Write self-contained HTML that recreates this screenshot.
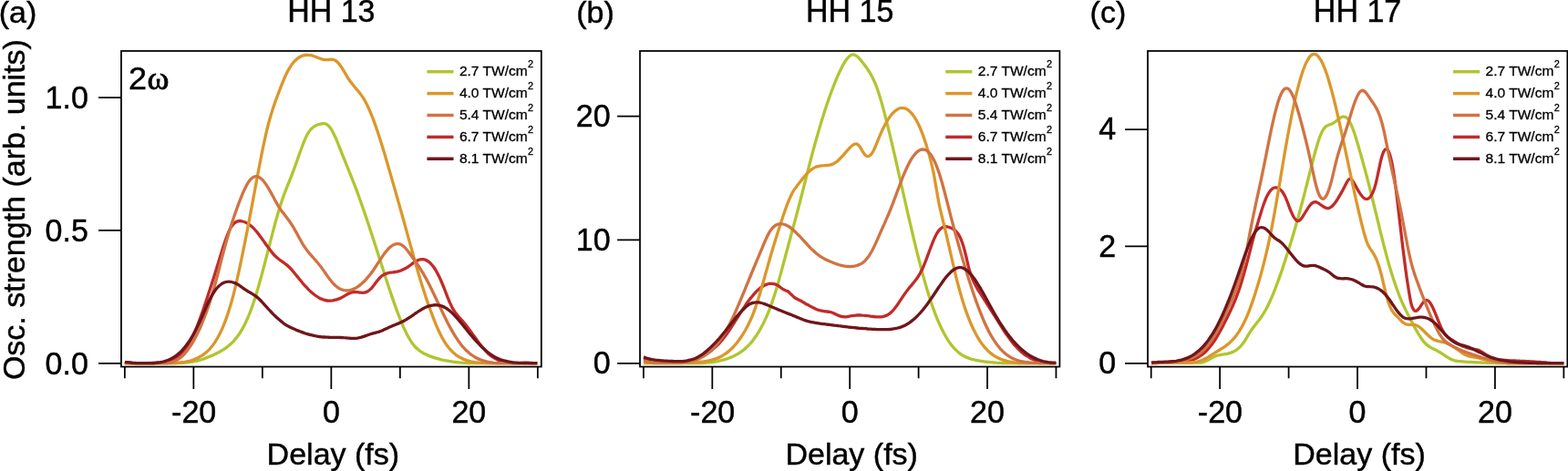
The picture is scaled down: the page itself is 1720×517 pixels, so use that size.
<!DOCTYPE html>
<html lang="en">
<head>
<meta charset="utf-8">
<title>Oscillation strength vs delay</title>
<style>
html,body{margin:0;padding:0;background:#fff;}
body{width:1720px;height:517px;overflow:hidden;}
svg{display:block;}
text{font-family:"Liberation Sans", sans-serif;fill:#000;}
.ax{stroke:#000;stroke-width:1.75;fill:none;stroke-linecap:butt;}
.cv{fill:none;stroke-width:3.30;stroke-linejoin:round;stroke-linecap:butt;}
.big{font-size:34px;stroke:#000;stroke-width:0.45px;}
.leg{font-size:15.55px;stroke:#000;stroke-width:0.3px;}
.sup{font-size:10.9px;}
</style>
</head>
<body>
<svg width="1720" height="517" viewBox="0 0 1720 517">
<rect x="0" y="0" width="1720" height="517" fill="#fff"/>
<text class="big" text-anchor="middle" transform="translate(27.2,230.1) rotate(-90) scale(1,0.995)">Osc. strength (arb. units)</text>
<g id="panel-a">
<path class="cv" stroke="#B1C530" d="M136.8 398.7C137.3 398.7 138.8 398.7 139.8 398.7C140.8 398.7 141.8 398.7 142.8 398.7C143.8 398.7 144.8 398.7 145.8 398.7C146.8 398.7 147.8 398.6 148.8 398.6C149.8 398.6 150.8 398.6 151.8 398.6C152.8 398.6 153.8 398.6 154.8 398.7C155.8 398.7 156.8 398.7 157.8 398.7C158.8 398.7 159.8 398.7 160.8 398.7C161.8 398.7 162.8 398.7 163.8 398.7C164.8 398.7 165.8 398.7 166.8 398.7C167.8 398.7 168.8 398.7 169.8 398.7C170.8 398.7 171.8 398.7 172.8 398.7C173.8 398.7 174.8 398.7 175.8 398.7C176.8 398.7 177.8 398.7 178.8 398.7C179.8 398.7 180.8 398.7 181.8 398.7C182.8 398.7 183.8 398.7 184.8 398.7C185.8 398.7 186.8 398.7 187.8 398.6C188.8 398.6 189.8 398.6 190.8 398.6C191.8 398.6 192.8 398.5 193.8 398.5C194.8 398.5 195.8 398.4 196.8 398.4C197.8 398.4 198.8 398.3 199.8 398.3C200.8 398.2 201.8 398.1 202.8 398.1C203.8 398.0 204.8 397.9 205.8 397.8C206.8 397.7 207.8 397.6 208.8 397.4C209.8 397.3 210.8 397.1 211.8 397.0C212.8 396.8 213.8 396.6 214.8 396.4C215.8 396.2 216.8 395.9 217.8 395.7C218.8 395.4 219.8 395.1 220.8 394.8C221.8 394.5 222.8 394.1 223.8 393.8C224.8 393.4 225.8 393.0 226.8 392.6C227.8 392.2 228.8 391.8 229.8 391.4C230.8 391.0 231.8 390.5 232.8 390.1C233.8 389.6 234.8 389.2 235.8 388.7C236.8 388.3 237.8 387.8 238.8 387.3C239.8 386.8 240.8 386.2 241.8 385.7C242.8 385.1 243.8 384.5 244.8 383.9C245.8 383.3 246.8 382.6 247.8 381.9C248.8 381.1 249.8 380.4 250.8 379.5C251.8 378.7 252.8 377.8 253.8 376.9C254.8 375.9 255.9 374.9 256.9 373.7C257.9 372.6 258.9 371.4 259.9 370.1C260.9 368.8 261.9 367.4 262.9 365.8C263.9 364.3 264.9 362.7 265.9 360.9C266.9 359.1 267.9 357.3 268.9 355.2C269.9 353.2 270.9 351.0 271.9 348.7C272.9 346.4 273.9 343.9 274.9 341.2C275.9 338.6 276.9 335.8 277.9 332.8C278.9 329.8 279.9 326.7 280.9 323.4C281.9 320.1 282.9 316.7 283.9 313.2C284.9 309.7 285.9 306.1 286.9 302.4C287.9 298.7 288.9 294.9 289.9 291.1C290.9 287.3 291.9 283.4 292.9 279.5C293.9 275.6 294.9 271.6 295.9 267.7C296.9 263.9 297.9 259.9 298.9 256.1C299.9 252.3 300.9 248.5 301.9 244.9C302.9 241.2 303.9 237.6 304.9 234.2C305.9 230.8 306.9 227.5 307.9 224.4C308.9 221.3 309.9 218.3 310.9 215.5C311.9 212.8 312.9 210.2 313.9 207.6C314.9 205.0 315.9 202.6 316.9 200.1C317.9 197.6 318.9 195.1 319.9 192.6C320.9 190.0 321.9 187.4 322.9 184.7C323.9 182.0 324.9 179.2 325.9 176.3C326.9 173.5 327.9 170.6 328.9 167.8C329.9 164.9 330.9 162.1 331.9 159.5C332.9 156.9 333.9 154.3 334.9 152.1C335.9 149.8 336.9 147.8 337.9 146.1C338.9 144.5 339.9 143.1 340.9 142.0C341.9 140.8 342.9 140.0 343.9 139.3C344.9 138.5 345.9 138.0 346.9 137.6C347.9 137.1 348.9 136.8 349.9 136.5C350.9 136.2 351.9 135.9 352.9 135.8C353.9 135.7 354.9 135.5 355.9 135.7C356.9 135.9 357.9 136.2 358.9 136.8C359.9 137.5 360.9 138.5 361.9 139.8C362.9 141.1 363.9 142.7 364.9 144.6C365.9 146.4 366.9 148.6 367.9 150.8C368.9 153.0 369.9 155.5 370.9 158.0C371.9 160.4 372.9 163.0 373.9 165.5C374.9 168.0 375.9 170.6 376.9 173.0C377.9 175.5 378.9 177.9 379.9 180.4C380.9 182.8 381.9 185.3 382.9 187.8C383.9 190.2 384.9 192.8 385.9 195.3C386.9 197.8 387.9 200.4 388.9 203.0C389.9 205.6 390.9 208.3 391.9 210.9C392.9 213.6 393.9 216.4 394.9 219.2C395.9 222.0 396.9 224.8 397.9 227.7C398.9 230.5 399.9 233.5 400.9 236.4C401.9 239.4 402.9 242.4 403.9 245.4C404.9 248.4 405.9 251.4 406.9 254.5C407.9 257.6 408.9 260.7 409.9 263.8C410.9 266.8 411.9 270.0 412.9 273.1C413.9 276.2 414.9 279.3 415.9 282.5C416.9 285.6 417.9 288.7 418.9 291.8C419.9 295.0 420.9 298.1 421.9 301.2C422.9 304.3 423.9 307.4 424.9 310.5C425.9 313.5 426.9 316.6 427.9 319.5C428.9 322.5 429.9 325.5 430.9 328.4C431.9 331.3 432.9 334.1 433.9 336.9C434.9 339.7 435.9 342.4 436.9 345.0C437.9 347.6 438.9 350.2 439.9 352.6C440.9 355.0 441.9 357.4 442.9 359.6C443.9 361.8 444.9 363.9 445.9 365.9C446.9 367.9 447.9 369.8 448.9 371.5C449.9 373.2 450.9 374.8 451.9 376.3C452.9 377.7 453.9 379.0 454.9 380.1C455.9 381.3 456.9 382.2 457.9 383.1C458.9 384.0 459.9 384.8 460.9 385.5C461.9 386.2 462.9 386.7 463.9 387.3C464.9 387.9 465.9 388.4 466.9 388.8C467.9 389.3 468.9 389.8 469.9 390.2C470.9 390.6 471.9 391.0 472.9 391.4C473.9 391.8 474.9 392.1 475.9 392.4C476.9 392.8 477.9 393.1 478.9 393.4C479.9 393.7 480.9 394.0 481.9 394.2C482.9 394.5 483.9 394.7 484.9 395.0C485.9 395.2 486.9 395.4 487.9 395.6C488.9 395.8 489.9 396.0 490.9 396.2C491.9 396.4 492.9 396.6 493.9 396.7C494.9 396.9 495.9 397.0 496.9 397.1C497.9 397.3 498.9 397.4 499.9 397.5C500.9 397.6 501.9 397.7 502.9 397.8C503.9 397.9 504.9 398.0 505.9 398.1C506.9 398.2 507.9 398.2 508.9 398.3C509.9 398.3 510.9 398.4 511.9 398.4C512.9 398.5 513.9 398.5 514.9 398.6C515.9 398.6 516.9 398.6 517.9 398.7C518.9 398.7 519.9 398.7 520.9 398.7C521.9 398.7 522.9 398.7 523.9 398.7C524.9 398.7 525.9 398.7 526.9 398.7C527.9 398.7 528.9 398.7 529.9 398.7C530.9 398.7 531.9 398.7 532.9 398.7C533.9 398.7 534.9 398.7 535.9 398.7C536.9 398.7 537.9 398.7 538.9 398.7C539.9 398.7 540.9 398.7 541.9 398.7C542.9 398.7 543.9 398.7 544.9 398.7C545.9 398.7 546.9 398.7 547.9 398.7C548.9 398.7 549.9 398.7 550.9 398.7C551.9 398.7 552.9 398.7 553.9 398.7C554.9 398.7 555.9 398.7 556.9 398.7C557.9 398.7 558.9 398.7 559.9 398.7C560.9 398.7 561.9 398.7 562.9 398.7C563.9 398.7 564.9 398.7 565.9 398.7C566.9 398.7 567.9 398.7 568.9 398.6C569.9 398.6 570.9 398.6 571.9 398.6C572.9 398.6 573.9 398.6 574.9 398.7C575.9 398.7 576.9 398.7 577.9 398.7C578.9 398.7 579.9 398.7 580.9 398.7C581.9 398.7 582.9 398.7 583.9 398.7C584.9 398.7 585.9 398.7 586.9 398.7C587.8 398.7 588.9 398.7 589.3 398.7"/>
<path class="cv" stroke="#C12B29" d="M137.0 398.0C137.5 398.1 139.0 398.2 140.0 398.3C141.0 398.3 142.0 398.4 143.0 398.4C144.0 398.5 145.0 398.5 146.0 398.6C147.0 398.6 148.0 398.6 149.0 398.6C150.0 398.7 151.0 398.7 152.0 398.7C153.0 398.7 154.0 398.7 155.0 398.7C156.0 398.7 157.0 398.7 158.0 398.7C159.0 398.7 160.0 398.7 161.0 398.7C162.0 398.7 163.0 398.6 164.0 398.6C165.0 398.6 166.0 398.6 167.0 398.6C168.0 398.5 169.0 398.5 170.0 398.5C171.0 398.5 172.0 398.4 173.0 398.4C174.0 398.3 175.0 398.3 176.0 398.2C177.0 398.1 178.0 398.0 179.0 397.8C180.0 397.7 181.0 397.5 182.0 397.3C183.0 397.1 184.0 396.8 185.0 396.5C186.0 396.1 187.0 395.8 188.0 395.3C189.0 394.9 190.0 394.4 191.0 393.9C192.0 393.3 193.0 392.7 194.0 392.0C195.0 391.2 196.0 390.5 197.0 389.6C198.0 388.7 199.0 387.7 200.0 386.7C201.0 385.6 202.0 384.4 203.0 383.1C204.0 381.8 205.0 380.4 206.0 378.8C207.0 377.3 208.0 375.6 209.0 373.8C210.0 372.0 211.0 370.1 212.0 368.0C213.0 365.9 214.0 363.6 215.0 361.2C216.0 358.8 217.0 356.2 218.0 353.6C219.0 351.0 220.0 348.2 221.0 345.4C222.0 342.6 223.0 339.7 224.0 336.7C225.0 333.8 226.0 330.7 227.0 327.7C228.0 324.7 229.0 321.6 230.0 318.5C231.0 315.5 232.0 312.4 233.0 309.2C234.0 306.1 235.0 302.9 236.0 299.7C237.0 296.5 238.0 293.3 239.0 290.0C240.0 286.8 241.0 283.5 242.0 280.2C243.0 277.0 244.0 273.7 245.0 270.6C246.0 267.5 247.0 264.4 248.0 261.7C249.0 259.0 250.0 256.3 251.0 254.2C252.0 252.0 253.0 250.1 254.0 248.5C255.0 247.0 256.0 245.9 257.0 245.0C258.0 244.0 259.0 243.5 260.0 243.1C261.0 242.7 262.0 242.5 263.0 242.5C264.0 242.5 265.0 242.7 266.0 243.0C267.0 243.2 268.0 243.6 269.0 244.0C270.0 244.4 271.0 245.0 272.0 245.6C273.0 246.2 274.0 246.9 275.0 247.7C276.0 248.5 277.0 249.4 278.0 250.4C279.0 251.4 280.0 252.5 281.0 253.7C282.0 254.8 283.0 256.1 284.0 257.4C285.0 258.7 286.0 260.1 287.0 261.5C288.0 262.9 289.0 264.4 290.0 265.8C291.0 267.2 292.0 268.7 293.0 270.1C294.0 271.4 295.0 272.8 296.0 274.1C297.0 275.4 298.0 276.7 299.0 277.9C300.0 279.1 301.0 280.2 302.0 281.1C303.0 282.1 304.0 283.0 305.0 283.8C306.0 284.6 307.0 285.3 308.0 286.0C309.0 286.8 310.0 287.4 311.0 288.1C312.0 288.9 313.0 289.6 314.0 290.4C315.0 291.2 316.0 292.1 317.0 293.0C318.0 294.0 319.0 295.1 320.0 296.2C321.0 297.3 322.0 298.5 323.0 299.7C324.0 300.9 325.0 302.1 326.0 303.4C327.0 304.6 328.0 305.9 329.0 307.1C330.0 308.4 331.0 309.6 332.0 310.8C333.0 311.9 334.0 313.1 335.0 314.2C336.0 315.3 337.0 316.3 338.0 317.3C339.0 318.3 340.0 319.3 341.0 320.2C342.0 321.1 343.0 322.0 344.0 322.8C345.0 323.6 346.0 324.3 347.0 325.0C348.0 325.7 349.0 326.3 350.0 326.9C351.0 327.4 352.0 327.9 353.0 328.3C354.0 328.8 355.0 329.1 356.0 329.4C357.0 329.7 358.0 329.9 359.0 330.0C360.0 330.1 361.0 330.2 362.0 330.2C363.0 330.1 364.0 330.0 365.0 329.9C366.0 329.7 367.0 329.5 368.0 329.2C369.0 329.0 370.0 328.6 371.0 328.2C372.0 327.9 373.0 327.4 374.0 326.9C375.0 326.4 376.0 325.9 377.0 325.3C378.0 324.8 379.0 324.2 380.0 323.6C381.0 323.1 382.0 322.5 383.0 322.0C384.0 321.6 385.0 321.1 386.0 320.9C387.0 320.6 388.0 320.5 389.0 320.5C390.0 320.4 391.0 320.6 392.0 320.7C393.0 320.8 394.0 321.0 395.0 321.1C396.0 321.2 397.0 321.4 398.0 321.3C399.0 321.3 400.0 321.2 401.0 320.9C402.0 320.6 403.0 320.1 404.0 319.4C405.0 318.7 406.0 317.8 407.0 316.8C408.0 315.8 409.0 314.5 410.0 313.3C411.0 312.0 412.0 310.6 413.0 309.3C414.0 308.1 415.0 306.8 416.0 305.7C417.0 304.6 418.0 303.6 419.0 302.8C420.0 302.0 421.0 301.4 422.0 300.9C423.0 300.5 424.0 300.1 425.0 299.8C426.0 299.6 427.0 299.4 428.0 299.2C429.0 299.1 430.0 299.0 431.0 298.9C432.0 298.7 433.0 298.6 434.0 298.5C435.0 298.3 436.0 298.1 437.0 297.8C438.0 297.6 439.0 297.2 440.0 296.9C441.0 296.5 442.0 296.1 443.0 295.6C444.0 295.0 445.0 294.5 446.0 293.8C447.0 293.2 448.0 292.5 449.0 291.8C450.0 291.1 451.0 290.3 452.0 289.6C453.0 288.8 454.0 288.1 455.0 287.5C456.0 286.9 457.0 286.3 458.0 285.9C459.0 285.4 460.0 285.1 461.0 284.9C462.0 284.7 463.0 284.6 464.0 284.7C465.0 284.8 466.0 285.0 467.0 285.4C468.0 285.8 469.0 286.3 470.0 287.1C471.0 287.8 472.0 288.7 473.0 289.8C474.0 290.8 475.0 292.1 476.0 293.5C477.0 295.0 478.0 296.6 479.0 298.4C480.0 300.2 481.0 302.2 482.0 304.3C483.0 306.4 484.0 308.6 485.0 311.0C486.0 313.4 487.0 316.0 488.0 318.5C489.0 321.1 490.0 323.8 491.0 326.3C492.0 328.7 493.0 331.3 494.0 333.4C495.0 335.6 496.0 337.6 497.0 339.3C498.0 341.0 499.0 342.5 500.0 343.8C501.0 345.2 502.0 346.3 503.0 347.5C504.0 348.6 505.0 349.6 506.0 350.8C507.0 351.9 508.0 353.1 509.0 354.3C510.0 355.5 511.0 356.8 512.0 358.1C513.0 359.4 514.0 360.7 515.0 362.1C516.0 363.4 517.0 364.8 518.0 366.2C519.0 367.6 520.0 369.0 521.0 370.3C522.0 371.7 523.0 373.1 524.0 374.4C525.0 375.8 526.0 377.1 527.0 378.4C528.0 379.6 529.0 380.9 530.0 382.0C531.0 383.2 532.0 384.4 533.0 385.4C534.0 386.5 535.0 387.5 536.0 388.4C537.0 389.3 538.0 390.1 539.0 390.9C540.0 391.6 541.0 392.3 542.0 392.9C543.0 393.6 544.0 394.1 545.0 394.6C546.0 395.1 547.0 395.6 548.0 396.0C549.0 396.3 550.0 396.7 551.0 397.0C552.0 397.3 553.0 397.5 554.0 397.7C555.0 397.9 556.0 398.1 557.0 398.2C558.0 398.4 559.0 398.5 560.0 398.6C561.0 398.6 562.0 398.7 563.0 398.7C564.0 398.7 565.0 398.7 566.0 398.7C567.0 398.7 568.0 398.7 569.0 398.7C570.0 398.7 571.0 398.6 572.0 398.6C573.0 398.6 574.0 398.5 575.0 398.5C576.0 398.5 577.0 398.4 578.0 398.4C579.0 398.4 580.0 398.4 581.0 398.4C582.0 398.4 583.0 398.4 584.0 398.5C585.0 398.5 586.1 398.7 587.0 398.7C587.9 398.7 588.9 398.7 589.3 398.7"/>
<path class="cv" stroke="#DB972B" d="M136.8 398.7C137.3 398.7 138.8 398.7 139.8 398.7C140.8 398.7 141.8 398.7 142.8 398.6C143.8 398.6 144.8 398.6 145.8 398.6C146.8 398.6 147.8 398.6 148.8 398.6C149.8 398.6 150.8 398.6 151.8 398.6C152.8 398.6 153.8 398.6 154.8 398.6C155.8 398.6 156.8 398.6 157.8 398.6C158.8 398.6 159.8 398.7 160.8 398.7C161.8 398.7 162.8 398.7 163.8 398.7C164.8 398.7 165.8 398.7 166.8 398.7C167.8 398.7 168.8 398.7 169.8 398.7C170.8 398.7 171.8 398.7 172.8 398.7C173.8 398.7 174.8 398.7 175.8 398.7C176.8 398.7 177.8 398.7 178.8 398.7C179.8 398.7 180.8 398.7 181.8 398.7C182.8 398.7 183.8 398.7 184.8 398.7C185.8 398.7 186.8 398.7 187.8 398.6C188.8 398.6 189.8 398.6 190.8 398.5C191.8 398.5 192.8 398.4 193.8 398.3C194.8 398.2 195.8 398.2 196.8 398.1C197.8 398.0 198.8 397.9 199.8 397.7C200.8 397.6 201.8 397.5 202.8 397.3C203.8 397.1 204.8 396.9 205.8 396.7C206.8 396.5 207.8 396.2 208.8 396.0C209.8 395.7 210.8 395.4 211.8 395.0C212.8 394.7 213.8 394.3 214.8 393.8C215.8 393.4 216.8 392.9 217.8 392.4C218.8 391.9 219.8 391.3 220.8 390.7C221.8 390.0 222.8 389.4 223.8 388.6C224.8 387.9 225.8 387.1 226.8 386.2C227.8 385.3 228.8 384.3 229.8 383.3C230.8 382.2 231.8 381.0 232.8 379.8C233.8 378.5 234.8 377.1 235.8 375.6C236.8 374.1 237.8 372.4 238.8 370.7C239.8 368.9 240.8 367.0 241.8 364.9C242.8 362.9 243.8 360.6 244.8 358.3C245.8 355.9 246.8 353.3 247.8 350.6C248.8 347.8 249.8 344.9 250.8 341.8C251.8 338.7 252.8 335.3 253.8 331.8C254.8 328.2 255.9 324.4 256.9 320.3C257.9 316.3 258.9 311.9 259.9 307.5C260.9 303.1 261.9 298.5 262.9 293.9C263.9 289.2 264.9 284.4 265.9 279.6C266.9 274.7 267.9 269.7 268.9 264.7C269.9 259.7 270.9 254.5 271.9 249.4C272.9 244.2 273.9 238.9 274.9 233.6C275.9 228.3 276.9 223.0 277.9 217.6C278.9 212.2 279.9 206.8 280.9 201.4C281.9 196.0 282.9 190.6 283.9 185.4C284.9 180.1 285.9 174.9 286.9 169.9C287.9 164.9 288.9 160.0 289.9 155.4C290.9 150.8 291.9 146.4 292.9 142.2C293.9 138.1 294.9 134.3 295.9 130.7C296.9 127.1 297.9 123.9 298.9 120.7C299.9 117.6 300.9 114.7 301.9 111.9C302.9 109.0 303.9 106.4 304.9 103.7C305.9 101.0 306.9 98.4 307.9 95.9C308.9 93.3 309.9 90.7 310.9 88.3C311.9 85.9 312.9 83.6 313.9 81.5C314.9 79.4 315.9 77.5 316.9 75.8C317.9 74.1 318.9 72.5 319.9 71.1C320.9 69.7 321.9 68.5 322.9 67.4C323.9 66.3 324.9 65.4 325.9 64.6C326.9 63.7 327.9 63.1 328.9 62.5C329.9 61.9 330.9 61.5 331.9 61.2C332.9 60.8 333.9 60.6 334.9 60.5C335.9 60.4 336.9 60.3 337.9 60.4C338.9 60.4 339.9 60.6 340.9 60.7C341.9 60.9 342.9 61.2 343.9 61.5C344.9 61.9 345.9 62.3 346.9 62.6C347.9 63.0 348.9 63.5 349.9 63.8C350.9 64.2 351.9 64.6 352.9 64.9C353.9 65.2 354.9 65.5 355.9 65.6C356.9 65.7 357.9 65.7 358.9 65.7C359.9 65.6 360.9 65.4 361.9 65.3C362.9 65.3 363.9 65.1 364.9 65.3C365.9 65.5 366.9 65.8 367.9 66.4C368.9 67.1 369.9 67.9 370.9 69.0C371.9 70.0 372.9 71.3 373.9 72.7C374.9 74.1 375.9 75.7 376.9 77.3C377.9 79.0 378.9 80.9 379.9 82.6C380.9 84.2 381.9 85.9 382.9 87.5C383.9 89.0 384.9 90.3 385.9 91.6C386.9 92.9 387.9 94.1 388.9 95.3C389.9 96.5 390.9 97.6 391.9 98.8C392.9 100.0 393.9 101.2 394.9 102.5C395.9 103.9 396.9 105.2 397.9 106.7C398.9 108.3 399.9 109.9 400.9 111.8C401.9 113.6 402.9 115.6 403.9 117.8C404.9 119.9 405.9 122.3 406.9 124.7C407.9 127.1 408.9 129.7 409.9 132.4C410.9 135.1 411.9 137.9 412.9 140.8C413.9 143.7 414.9 146.7 415.9 149.8C416.9 152.9 417.9 156.0 418.9 159.3C419.9 162.5 420.9 165.8 421.9 169.1C422.9 172.5 423.9 175.9 424.9 179.3C425.9 182.7 426.9 186.2 427.9 189.6C428.9 193.1 429.9 196.6 430.9 200.1C431.9 203.5 432.9 207.0 433.9 210.5C434.9 214.0 435.9 217.5 436.9 221.1C437.9 224.6 438.9 228.1 439.9 231.7C440.9 235.3 441.9 238.8 442.9 242.5C443.9 246.1 444.9 249.7 445.9 253.4C446.9 257.0 447.9 260.7 448.9 264.3C449.9 267.9 450.9 271.6 451.9 275.1C452.9 278.7 453.9 282.3 454.9 285.9C455.9 289.4 456.9 292.9 457.9 296.3C458.9 299.8 459.9 303.1 460.9 306.4C461.9 309.7 462.9 313.0 463.9 316.1C464.9 319.3 465.9 322.4 466.9 325.4C467.9 328.4 468.9 331.3 469.9 334.1C470.9 337.0 471.9 339.8 472.9 342.5C473.9 345.2 474.9 347.9 475.9 350.4C476.9 353.0 477.9 355.4 478.9 357.8C479.9 360.2 480.9 362.4 481.9 364.5C482.9 366.6 483.9 368.6 484.9 370.5C485.9 372.3 486.9 374.0 487.9 375.6C488.9 377.2 489.9 378.7 490.9 380.0C491.9 381.3 492.9 382.6 493.9 383.7C494.9 384.8 495.9 385.8 496.9 386.8C497.9 387.7 498.9 388.5 499.9 389.3C500.9 390.0 501.9 390.7 502.9 391.3C503.9 392.0 504.9 392.5 505.9 393.0C506.9 393.5 507.9 394.0 508.9 394.4C509.9 394.8 510.9 395.2 511.9 395.5C512.9 395.8 513.9 396.1 514.9 396.4C515.9 396.6 516.9 396.9 517.9 397.1C518.9 397.3 519.9 397.4 520.9 397.6C521.9 397.7 522.9 397.9 523.9 398.0C524.9 398.1 525.9 398.2 526.9 398.2C527.9 398.3 528.9 398.4 529.9 398.4C530.9 398.5 531.9 398.5 532.9 398.5C533.9 398.6 534.9 398.6 535.9 398.6C536.9 398.6 537.9 398.6 538.9 398.7C539.9 398.7 540.9 398.7 541.9 398.7C542.9 398.7 543.9 398.7 544.9 398.7C545.9 398.7 546.9 398.7 547.9 398.7C548.9 398.7 549.9 398.7 550.9 398.7C551.9 398.7 552.9 398.7 553.9 398.7C554.9 398.7 555.9 398.7 556.9 398.7C557.9 398.7 558.9 398.7 559.9 398.7C560.9 398.7 561.9 398.7 562.9 398.7C563.9 398.7 564.9 398.7 565.9 398.7C566.9 398.7 567.9 398.7 568.9 398.7C569.9 398.7 570.9 398.7 571.9 398.7C572.9 398.7 573.9 398.7 574.9 398.7C575.9 398.7 576.9 398.7 577.9 398.7C578.9 398.7 579.9 398.7 580.9 398.7C581.9 398.7 582.9 398.7 583.9 398.7C584.9 398.7 585.9 398.7 586.9 398.7C587.8 398.7 588.9 398.7 589.3 398.7"/>
<path class="cv" stroke="#D07343" d="M136.8 398.3C137.3 398.3 138.8 398.4 139.8 398.5C140.8 398.6 141.8 398.6 142.8 398.6C143.8 398.7 144.8 398.7 145.8 398.7C146.8 398.7 147.8 398.7 148.8 398.7C149.8 398.7 150.8 398.7 151.8 398.7C152.8 398.7 153.8 398.7 154.8 398.6C155.8 398.6 156.8 398.6 157.8 398.6C158.8 398.6 159.8 398.6 160.8 398.6C161.8 398.5 162.8 398.5 163.8 398.5C164.8 398.5 165.8 398.6 166.8 398.6C167.8 398.6 168.8 398.6 169.8 398.7C170.8 398.7 171.8 398.7 172.8 398.7C173.8 398.7 174.8 398.7 175.8 398.7C176.8 398.7 177.8 398.7 178.8 398.7C179.8 398.7 180.8 398.7 181.8 398.7C182.8 398.7 183.8 398.6 184.8 398.4C185.8 398.3 186.8 398.0 187.8 397.8C188.8 397.5 189.8 397.2 190.8 396.7C191.8 396.3 192.8 395.9 193.8 395.3C194.8 394.7 195.8 394.1 196.8 393.4C197.8 392.6 198.8 391.8 199.8 390.9C200.8 390.0 201.8 388.9 202.8 387.8C203.8 386.7 204.8 385.5 205.8 384.2C206.8 382.9 207.8 381.4 208.8 379.9C209.8 378.4 210.8 376.8 211.8 375.1C212.8 373.4 213.8 371.6 214.8 369.6C215.8 367.7 216.8 365.7 217.8 363.5C218.8 361.4 219.8 359.2 220.8 356.8C221.8 354.5 222.8 352.0 223.8 349.5C224.8 346.9 225.8 344.3 226.8 341.4C227.8 338.6 228.8 335.7 229.8 332.7C230.8 329.6 231.8 326.4 232.8 323.0C233.8 319.6 234.8 316.1 235.8 312.5C236.8 308.8 237.8 305.0 238.8 301.1C239.8 297.3 240.8 293.3 241.8 289.4C242.8 285.5 243.8 281.6 244.8 277.8C245.8 274.0 246.8 270.2 247.8 266.7C248.8 263.1 249.8 259.6 250.8 256.2C251.8 252.9 252.8 249.6 253.8 246.5C254.8 243.3 255.9 240.3 256.9 237.3C257.9 234.4 258.9 231.5 259.9 228.7C260.9 225.9 261.9 223.2 262.9 220.6C263.9 218.0 264.9 215.5 265.9 213.1C266.9 210.7 267.9 208.4 268.9 206.4C269.9 204.4 270.9 202.4 271.9 200.8C272.9 199.2 273.9 197.8 274.9 196.8C275.9 195.7 276.9 194.9 277.9 194.4C278.9 193.9 279.9 193.7 280.9 193.7C281.9 193.7 282.9 194.0 283.9 194.5C284.9 195.0 285.9 195.7 286.9 196.6C287.9 197.5 288.9 198.6 289.9 199.8C290.9 201.1 291.9 202.5 292.9 204.1C293.9 205.6 294.9 207.3 295.9 209.1C296.9 210.8 297.9 212.8 298.9 214.6C299.9 216.5 300.9 218.4 301.9 220.2C302.9 222.0 303.9 223.9 304.9 225.5C305.9 227.2 306.9 228.7 307.9 230.1C308.9 231.6 309.9 232.8 310.9 234.1C311.9 235.4 312.9 236.7 313.9 238.0C314.9 239.3 315.9 240.6 316.9 242.0C317.9 243.4 318.9 244.9 319.9 246.4C320.9 248.0 321.9 249.6 322.9 251.3C323.9 253.0 324.9 254.9 325.9 256.7C326.9 258.6 327.9 260.5 328.9 262.3C329.9 264.1 330.9 265.9 331.9 267.6C332.9 269.2 333.9 270.8 334.9 272.2C335.9 273.7 336.9 275.0 337.9 276.3C338.9 277.5 339.9 278.7 340.9 279.9C341.9 281.0 342.9 282.1 343.9 283.2C344.9 284.4 345.9 285.4 346.9 286.6C347.9 287.8 348.9 288.9 349.9 290.2C350.9 291.4 351.9 292.7 352.9 294.1C353.9 295.4 354.9 296.9 355.9 298.3C356.9 299.7 357.9 301.2 358.9 302.6C359.9 304.0 360.9 305.4 361.9 306.7C362.9 308.0 363.9 309.3 364.9 310.4C365.9 311.5 366.9 312.6 367.9 313.5C368.9 314.4 369.9 315.1 370.9 315.8C371.9 316.5 372.9 317.0 373.9 317.5C374.9 317.9 375.9 318.3 376.9 318.5C377.9 318.8 378.9 318.9 379.9 318.9C380.9 319.0 381.9 318.9 382.9 318.8C383.9 318.6 384.9 318.4 385.9 318.0C386.9 317.7 387.9 317.3 388.9 316.8C389.9 316.3 390.9 315.7 391.9 315.1C392.9 314.4 393.9 313.7 394.9 312.9C395.9 312.1 396.9 311.2 397.9 310.3C398.9 309.4 399.9 308.4 400.9 307.3C401.9 306.2 402.9 305.1 403.9 303.9C404.9 302.7 405.9 301.5 406.9 300.2C407.9 298.8 408.9 297.4 409.9 296.0C410.9 294.6 411.9 293.0 412.9 291.5C413.9 290.0 414.9 288.4 415.9 286.9C416.9 285.4 417.9 283.8 418.9 282.3C419.9 280.9 420.9 279.4 421.9 278.1C422.9 276.8 423.9 275.5 424.9 274.4C425.9 273.2 426.9 272.2 427.9 271.3C428.9 270.5 429.9 269.7 430.9 269.1C431.9 268.5 432.9 268.1 433.9 267.8C434.9 267.6 435.9 267.5 436.9 267.6C437.9 267.7 438.9 267.9 439.9 268.4C440.9 268.9 441.9 269.7 442.9 270.5C443.9 271.4 444.9 272.5 445.9 273.7C446.9 274.9 447.9 276.2 448.9 277.5C449.9 278.9 450.9 280.3 451.9 281.7C452.9 283.1 453.9 284.5 454.9 285.9C455.9 287.3 456.9 288.7 457.9 290.2C458.9 291.7 459.9 293.2 460.9 294.8C461.9 296.4 462.9 298.0 463.9 299.7C464.9 301.4 465.9 303.1 466.9 304.9C467.9 306.7 468.9 308.6 469.9 310.6C470.9 312.5 471.9 314.5 472.9 316.5C473.9 318.5 474.9 320.6 475.9 322.7C476.9 324.8 477.9 326.9 478.9 329.0C479.9 331.2 480.9 333.3 481.9 335.4C482.9 337.5 483.9 339.6 484.9 341.7C485.9 343.8 486.9 345.9 487.9 347.9C488.9 349.9 489.9 352.0 490.9 353.9C491.9 355.9 492.9 357.8 493.9 359.6C494.9 361.4 495.9 363.2 496.9 364.9C497.9 366.7 498.9 368.3 499.9 369.9C500.9 371.4 501.9 372.9 502.9 374.4C503.9 375.8 504.9 377.1 505.9 378.4C506.9 379.7 507.9 380.9 508.9 382.0C509.9 383.1 510.9 384.1 511.9 385.1C512.9 386.0 513.9 386.9 514.9 387.7C515.9 388.5 516.9 389.3 517.9 390.0C518.9 390.7 519.9 391.3 520.9 391.9C521.9 392.4 522.9 393.0 523.9 393.4C524.9 393.9 525.9 394.4 526.9 394.7C527.9 395.1 528.9 395.5 529.9 395.8C530.9 396.1 531.9 396.4 532.9 396.7C533.9 396.9 534.9 397.2 535.9 397.4C536.9 397.6 537.9 397.8 538.9 397.9C539.9 398.1 540.9 398.2 541.9 398.4C542.9 398.5 543.9 398.6 544.9 398.7C545.9 398.7 546.9 398.7 547.9 398.7C548.9 398.7 549.9 398.7 550.9 398.7C551.9 398.7 552.9 398.7 553.9 398.7C554.9 398.7 555.9 398.7 556.9 398.7C557.9 398.7 558.9 398.7 559.9 398.7C560.9 398.7 561.9 398.7 562.9 398.7C563.9 398.7 564.9 398.7 565.9 398.7C566.9 398.7 567.9 398.6 568.9 398.6C569.9 398.6 570.9 398.5 571.9 398.5C572.9 398.5 573.9 398.4 574.9 398.4C575.9 398.4 576.9 398.4 577.9 398.4C578.9 398.4 579.9 398.4 580.9 398.5C581.9 398.5 582.9 398.5 583.9 398.6C584.9 398.6 585.9 398.7 586.9 398.7C587.8 398.7 588.9 398.7 589.3 398.7"/>
<path class="cv" stroke="#70161B" d="M137.0 397.3C137.5 397.4 139.0 397.6 140.0 397.7C141.0 397.8 142.0 397.9 143.0 398.0C144.0 398.1 145.0 398.2 146.0 398.3C147.0 398.3 148.0 398.4 149.0 398.5C150.0 398.5 151.0 398.6 152.0 398.6C153.0 398.7 154.0 398.7 155.0 398.7C156.0 398.7 157.0 398.7 158.0 398.7C159.0 398.7 160.0 398.7 161.0 398.7C162.0 398.7 163.0 398.7 164.0 398.7C165.0 398.6 166.0 398.6 167.0 398.5C168.0 398.5 169.0 398.4 170.0 398.3C171.0 398.2 172.0 398.1 173.0 398.0C174.0 397.9 175.0 397.7 176.0 397.6C177.0 397.4 178.0 397.2 179.0 397.0C180.0 396.7 181.0 396.4 182.0 396.1C183.0 395.8 184.0 395.4 185.0 395.0C186.0 394.6 187.0 394.2 188.0 393.6C189.0 393.1 190.0 392.5 191.0 391.9C192.0 391.3 193.0 390.6 194.0 389.8C195.0 389.0 196.0 388.2 197.0 387.3C198.0 386.3 199.0 385.4 200.0 384.3C201.0 383.2 202.0 382.0 203.0 380.8C204.0 379.6 205.0 378.2 206.0 376.8C207.0 375.4 208.0 373.9 209.0 372.3C210.0 370.8 211.0 369.1 212.0 367.3C213.0 365.6 214.0 363.7 215.0 361.7C216.0 359.8 217.0 357.7 218.0 355.6C219.0 353.5 220.0 351.2 221.0 349.0C222.0 346.7 223.0 344.4 224.0 342.1C225.0 339.8 226.0 337.5 227.0 335.3C228.0 333.1 229.0 331.0 230.0 329.0C231.0 327.0 232.0 325.1 233.0 323.4C234.0 321.7 235.0 320.2 236.0 318.8C237.0 317.4 238.0 316.2 239.0 315.2C240.0 314.1 241.0 313.2 242.0 312.5C243.0 311.7 244.0 311.1 245.0 310.6C246.0 310.1 247.0 309.8 248.0 309.5C249.0 309.3 250.0 309.2 251.0 309.2C252.0 309.2 253.0 309.3 254.0 309.5C255.0 309.7 256.0 310.0 257.0 310.4C258.0 310.7 259.0 311.2 260.0 311.8C261.0 312.3 262.0 313.0 263.0 313.6C264.0 314.3 265.0 315.0 266.0 315.8C267.0 316.5 268.0 317.2 269.0 317.9C270.0 318.6 271.0 319.2 272.0 319.8C273.0 320.4 274.0 320.9 275.0 321.5C276.0 322.1 277.0 322.6 278.0 323.3C279.0 323.9 280.0 324.6 281.0 325.4C282.0 326.2 283.0 327.1 284.0 328.0C285.0 328.9 286.0 330.0 287.0 331.0C288.0 332.1 289.0 333.2 290.0 334.3C291.0 335.4 292.0 336.5 293.0 337.6C294.0 338.7 295.0 339.9 296.0 340.9C297.0 342.0 298.0 343.1 299.0 344.1C300.0 345.1 301.0 346.1 302.0 347.0C303.0 348.0 304.0 348.9 305.0 349.8C306.0 350.7 307.0 351.5 308.0 352.4C309.0 353.2 310.0 354.0 311.0 354.8C312.0 355.5 313.0 356.2 314.0 356.8C315.0 357.5 316.0 358.0 317.0 358.5C318.0 359.1 319.0 359.5 320.0 360.0C321.0 360.5 322.0 360.9 323.0 361.3C324.0 361.7 325.0 362.2 326.0 362.6C327.0 363.0 328.0 363.4 329.0 363.8C330.0 364.2 331.0 364.5 332.0 364.9C333.0 365.3 334.0 365.6 335.0 366.0C336.0 366.3 337.0 366.6 338.0 366.9C339.0 367.2 340.0 367.5 341.0 367.7C342.0 368.0 343.0 368.2 344.0 368.4C345.0 368.6 346.0 368.8 347.0 369.0C348.0 369.2 349.0 369.3 350.0 369.5C351.0 369.6 352.0 369.7 353.0 369.8C354.0 369.9 355.0 370.0 356.0 370.0C357.0 370.1 358.0 370.1 359.0 370.2C360.0 370.2 361.0 370.3 362.0 370.3C363.0 370.3 364.0 370.3 365.0 370.3C366.0 370.4 367.0 370.4 368.0 370.4C369.0 370.4 370.0 370.4 371.0 370.4C372.0 370.5 373.0 370.5 374.0 370.5C375.0 370.6 376.0 370.6 377.0 370.7C378.0 370.7 379.0 370.8 380.0 370.9C381.0 371.0 382.0 371.1 383.0 371.1C384.0 371.2 385.0 371.3 386.0 371.3C387.0 371.3 388.0 371.3 389.0 371.3C390.0 371.3 391.0 371.2 392.0 371.1C393.0 370.9 394.0 370.7 395.0 370.5C396.0 370.3 397.0 370.0 398.0 369.6C399.0 369.3 400.0 369.0 401.0 368.6C402.0 368.3 403.0 367.9 404.0 367.5C405.0 367.2 406.0 366.9 407.0 366.5C408.0 366.2 409.0 366.0 410.0 365.7C411.0 365.4 412.0 365.2 413.0 364.9C414.0 364.6 415.0 364.4 416.0 364.1C417.0 363.7 418.0 363.4 419.0 363.0C420.0 362.5 421.0 362.1 422.0 361.6C423.0 361.1 424.0 360.6 425.0 360.2C426.0 359.7 427.0 359.2 428.0 358.8C429.0 358.3 430.0 357.9 431.0 357.5C432.0 357.1 433.0 356.7 434.0 356.3C435.0 355.9 436.0 355.5 437.0 355.1C438.0 354.7 439.0 354.3 440.0 353.8C441.0 353.3 442.0 352.8 443.0 352.3C444.0 351.7 445.0 351.2 446.0 350.5C447.0 349.9 448.0 349.3 449.0 348.6C450.0 348.0 451.0 347.3 452.0 346.6C453.0 345.9 454.0 345.2 455.0 344.5C456.0 343.8 457.0 343.2 458.0 342.5C459.0 341.8 460.0 341.2 461.0 340.6C462.0 339.9 463.0 339.3 464.0 338.8C465.0 338.3 466.0 337.7 467.0 337.3C468.0 336.8 469.0 336.4 470.0 336.1C471.0 335.8 472.0 335.5 473.0 335.3C474.0 335.1 475.0 334.9 476.0 334.8C477.0 334.7 478.0 334.7 479.0 334.8C480.0 334.9 481.0 335.0 482.0 335.2C483.0 335.4 484.0 335.7 485.0 336.1C486.0 336.5 487.0 336.9 488.0 337.5C489.0 338.0 490.0 338.6 491.0 339.4C492.0 340.1 493.0 340.9 494.0 341.8C495.0 342.6 496.0 343.6 497.0 344.6C498.0 345.6 499.0 346.6 500.0 347.7C501.0 348.8 502.0 350.0 503.0 351.1C504.0 352.3 505.0 353.5 506.0 354.7C507.0 355.9 508.0 357.2 509.0 358.4C510.0 359.7 511.0 360.9 512.0 362.2C513.0 363.4 514.0 364.6 515.0 365.9C516.0 367.1 517.0 368.3 518.0 369.4C519.0 370.6 520.0 371.8 521.0 372.9C522.0 374.0 523.0 375.1 524.0 376.2C525.0 377.3 526.0 378.3 527.0 379.3C528.0 380.3 529.0 381.3 530.0 382.2C531.0 383.2 532.0 384.1 533.0 384.9C534.0 385.8 535.0 386.6 536.0 387.3C537.0 388.1 538.0 388.8 539.0 389.5C540.0 390.1 541.0 390.8 542.0 391.3C543.0 391.9 544.0 392.4 545.0 392.9C546.0 393.4 547.0 393.8 548.0 394.2C549.0 394.6 550.0 395.0 551.0 395.3C552.0 395.6 553.0 395.9 554.0 396.2C555.0 396.5 556.0 396.7 557.0 396.9C558.0 397.1 559.0 397.3 560.0 397.4C561.0 397.6 562.0 397.7 563.0 397.8C564.0 397.9 565.0 398.0 566.0 398.1C567.0 398.2 568.0 398.2 569.0 398.3C570.0 398.3 571.0 398.4 572.0 398.4C573.0 398.4 574.0 398.5 575.0 398.5C576.0 398.5 577.0 398.5 578.0 398.5C579.0 398.5 580.0 398.5 581.0 398.6C582.0 398.6 583.0 398.6 584.0 398.6C585.0 398.6 586.1 398.7 587.0 398.7C587.9 398.7 588.9 398.7 589.3 398.7"/>
<rect class="ax" x="132.95" y="55.96" width="460.85" height="346.59"/>
<path class="ax" d="M136.85 402.55V415.30M212.35 402.55V427.10M287.85 402.55V415.30M363.35 402.55V427.10M438.84 402.55V415.30M514.34 402.55V427.10M589.84 402.55V415.30M108.05 398.84H132.95M108.05 252.92H132.95M108.05 107.00H132.95"/>
<text class="big" text-anchor="middle" transform="translate(212.65,463.90) scale(1,1.050)">-20</text>
<text class="big" text-anchor="middle" transform="translate(363.35,463.90) scale(1,1.050)">0</text>
<text class="big" text-anchor="middle" transform="translate(514.34,463.90) scale(1,1.050)">20</text>
<text class="big" text-anchor="end" transform="translate(96.85,410.59) scale(1,1.055)">0.0</text>
<text class="big" text-anchor="end" transform="translate(96.85,264.67) scale(1,1.055)">0.5</text>
<text class="big" text-anchor="end" transform="translate(96.85,118.75) scale(1,1.055)">1.0</text>
<text class="big" text-anchor="middle" transform="translate(365.35,509.60) scale(1,1.000)">Delay (fs)</text>
<text class="big" text-anchor="middle" transform="translate(363.35,23.50) scale(1,1.035)">HH 13</text>
<text class="big" text-anchor="start" transform="translate(-1.35,25.20) scale(1,1.000)">(a)</text>
<path d="M468.40 78.70H497.50" stroke="#B1C530" stroke-width="3.5" fill="none"/>
<text class="leg" x="503.90" y="83.35">2.7 TW/cm<tspan class="sup" dx="0.3" dy="-9.0">2</tspan></text>
<path d="M468.40 102.60H497.50" stroke="#DB972B" stroke-width="3.5" fill="none"/>
<text class="leg" x="503.90" y="107.25">4.0 TW/cm<tspan class="sup" dx="0.3" dy="-9.0">2</tspan></text>
<path d="M468.40 126.50H497.50" stroke="#D07343" stroke-width="3.5" fill="none"/>
<text class="leg" x="503.90" y="131.15">5.4 TW/cm<tspan class="sup" dx="0.3" dy="-9.0">2</tspan></text>
<path d="M468.40 150.40H497.50" stroke="#C12B29" stroke-width="3.5" fill="none"/>
<text class="leg" x="503.90" y="155.05">6.7 TW/cm<tspan class="sup" dx="0.3" dy="-9.0">2</tspan></text>
<path d="M468.40 174.30H497.50" stroke="#70161B" stroke-width="3.5" fill="none"/>
<text class="leg" x="503.90" y="178.95">8.1 TW/cm<tspan class="sup" dx="0.3" dy="-9.0">2</tspan></text>
<text class="big" transform="translate(141,98.1) scale(1,0.975)" style="font-size:36px">2<tspan dx="0.6" style="font-family:'Liberation Serif',serif;font-size:36.4px;stroke-width:0.8px">ω</tspan></text>
</g>
<g id="panel-b">
<path class="cv" stroke="#B1C530" d="M706.0 398.7C706.5 398.7 708.0 398.7 709.0 398.7C710.0 398.7 711.0 398.7 712.0 398.7C713.0 398.7 714.0 398.6 715.0 398.6C716.0 398.6 717.0 398.6 718.0 398.6C719.0 398.6 720.0 398.5 721.0 398.5C722.0 398.5 723.0 398.5 724.0 398.5C725.0 398.6 726.0 398.6 727.0 398.6C728.0 398.6 729.0 398.6 730.0 398.6C731.0 398.6 732.0 398.6 733.0 398.6C734.0 398.7 735.0 398.7 736.0 398.7C737.0 398.7 738.0 398.7 739.0 398.7C740.0 398.7 741.0 398.7 742.0 398.7C743.0 398.7 744.0 398.7 745.0 398.7C746.0 398.7 747.0 398.7 748.0 398.7C749.0 398.7 750.0 398.7 751.0 398.7C752.0 398.7 753.0 398.7 754.0 398.7C755.0 398.7 756.0 398.7 757.0 398.7C758.0 398.7 759.0 398.7 760.0 398.7C761.0 398.7 762.0 398.7 763.0 398.7C764.0 398.7 765.0 398.7 766.0 398.7C767.0 398.6 768.0 398.6 769.0 398.5C770.0 398.5 771.0 398.4 772.0 398.3C773.0 398.3 774.0 398.2 775.0 398.1C776.0 398.0 777.0 397.9 778.0 397.8C779.0 397.7 780.0 397.6 781.0 397.5C782.0 397.4 783.0 397.2 784.0 397.1C785.0 396.9 786.0 396.7 787.0 396.6C788.0 396.4 789.0 396.2 790.0 395.9C791.0 395.7 792.0 395.5 793.0 395.2C794.0 394.9 795.0 394.6 796.0 394.3C797.0 394.0 798.0 393.7 799.0 393.3C800.0 392.9 801.0 392.5 802.0 392.1C803.0 391.7 804.0 391.2 805.0 390.8C806.0 390.3 807.0 389.8 808.0 389.2C809.0 388.7 810.0 388.1 811.0 387.4C812.0 386.8 813.0 386.1 814.0 385.3C815.0 384.6 816.0 383.8 817.0 382.9C818.0 382.1 819.0 381.2 820.0 380.2C821.0 379.2 822.0 378.1 823.0 377.0C824.0 375.9 825.0 374.7 826.0 373.4C827.0 372.1 828.0 370.7 829.0 369.3C830.0 367.8 831.0 366.3 832.0 364.7C833.0 363.0 834.0 361.3 835.0 359.5C836.0 357.6 837.0 355.7 838.0 353.6C839.0 351.6 840.0 349.4 841.0 347.1C842.0 344.8 843.0 342.4 844.0 339.8C845.0 337.2 846.0 334.5 847.0 331.6C848.0 328.8 849.0 325.7 850.0 322.6C851.0 319.4 852.0 316.0 853.0 312.6C854.0 309.2 855.0 305.6 856.0 301.9C857.0 298.3 858.0 294.6 859.0 290.8C860.0 287.1 861.0 283.3 862.0 279.5C863.0 275.8 864.0 272.0 865.0 268.3C866.0 264.6 867.0 260.9 868.0 257.2C869.0 253.5 870.0 249.9 871.0 246.1C872.0 242.4 873.0 238.7 874.0 235.0C875.0 231.2 876.0 227.4 877.0 223.5C878.0 219.7 879.0 215.8 880.0 211.9C881.0 208.0 882.0 204.0 883.0 200.0C884.0 196.1 885.0 192.1 886.0 188.2C887.0 184.2 888.0 180.3 889.0 176.5C890.0 172.6 891.0 168.9 892.0 165.2C893.0 161.5 894.0 157.8 895.0 154.2C896.0 150.7 897.0 147.1 898.0 143.7C899.0 140.3 900.0 136.9 901.0 133.6C902.0 130.3 903.0 127.1 904.0 124.0C905.0 120.8 906.0 117.8 907.0 114.8C908.0 111.8 909.0 108.9 910.0 106.1C911.0 103.3 912.0 100.6 913.0 98.0C914.0 95.3 915.0 92.8 916.0 90.3C917.0 87.9 918.0 85.5 919.0 83.2C920.0 81.0 921.0 78.8 922.0 76.7C923.0 74.7 924.0 72.7 925.0 70.9C926.0 69.1 927.0 67.4 928.0 66.0C929.0 64.6 930.0 63.3 931.0 62.4C932.0 61.4 933.0 60.7 934.0 60.3C935.0 59.9 936.0 59.8 937.0 60.1C938.0 60.3 939.0 60.9 940.0 61.7C941.0 62.4 942.0 63.5 943.0 64.6C944.0 65.7 945.0 67.0 946.0 68.2C947.0 69.5 948.0 70.8 949.0 72.2C950.0 73.5 951.0 74.9 952.0 76.4C953.0 78.0 954.0 79.5 955.0 81.3C956.0 83.1 957.0 84.9 958.0 87.0C959.0 89.1 960.0 91.4 961.0 94.0C962.0 96.5 963.0 99.4 964.0 102.4C965.0 105.5 966.0 108.9 967.0 112.4C968.0 115.9 969.0 119.6 970.0 123.4C971.0 127.2 972.0 131.1 973.0 135.1C974.0 139.1 975.0 143.3 976.0 147.4C977.0 151.6 978.0 155.8 979.0 160.1C980.0 164.4 981.0 168.7 982.0 173.1C983.0 177.4 984.0 181.8 985.0 186.3C986.0 190.7 987.0 195.1 988.0 199.6C989.0 204.0 990.0 208.5 991.0 212.9C992.0 217.3 993.0 221.7 994.0 226.1C995.0 230.5 996.0 234.9 997.0 239.3C998.0 243.6 999.0 247.9 1000.0 252.2C1001.0 256.4 1002.0 260.7 1003.0 264.8C1004.0 269.0 1005.0 273.1 1006.0 277.1C1007.0 281.1 1008.0 285.1 1009.0 288.9C1010.0 292.8 1011.0 296.6 1012.0 300.3C1013.0 304.0 1014.0 307.6 1015.0 311.1C1016.0 314.6 1017.0 318.0 1018.0 321.3C1019.0 324.5 1020.0 327.7 1021.0 330.7C1022.0 333.7 1023.0 336.6 1024.0 339.4C1025.0 342.1 1026.0 344.8 1027.0 347.3C1028.0 349.8 1029.0 352.2 1030.0 354.5C1031.0 356.8 1032.0 358.9 1033.0 361.0C1034.0 363.0 1035.0 365.0 1036.0 366.8C1037.0 368.6 1038.0 370.4 1039.0 372.0C1040.0 373.6 1041.0 375.1 1042.0 376.5C1043.0 377.9 1044.0 379.2 1045.0 380.4C1046.0 381.6 1047.0 382.7 1048.0 383.7C1049.0 384.7 1050.0 385.6 1051.0 386.5C1052.0 387.3 1053.0 388.1 1054.0 388.8C1055.0 389.4 1056.0 390.1 1057.0 390.6C1058.0 391.2 1059.0 391.7 1060.0 392.1C1061.0 392.6 1062.0 393.0 1063.0 393.3C1064.0 393.7 1065.0 394.0 1066.0 394.3C1067.0 394.5 1068.0 394.8 1069.0 395.0C1070.0 395.2 1071.0 395.4 1072.0 395.6C1073.0 395.8 1074.0 396.0 1075.0 396.2C1076.0 396.3 1077.0 396.5 1078.0 396.6C1079.0 396.8 1080.0 396.9 1081.0 397.1C1082.0 397.2 1083.0 397.3 1084.0 397.4C1085.0 397.5 1086.0 397.6 1087.0 397.7C1088.0 397.8 1089.0 397.9 1090.0 398.0C1091.0 398.1 1092.0 398.1 1093.0 398.2C1094.0 398.3 1095.0 398.3 1096.0 398.4C1097.0 398.4 1098.0 398.5 1099.0 398.5C1100.0 398.6 1101.0 398.6 1102.0 398.7C1103.0 398.7 1104.0 398.7 1105.0 398.7C1106.0 398.7 1107.0 398.7 1108.0 398.7C1109.0 398.7 1110.0 398.7 1111.0 398.7C1112.0 398.7 1113.0 398.7 1114.0 398.7C1115.0 398.7 1116.0 398.7 1117.0 398.7C1118.0 398.7 1119.0 398.7 1120.0 398.7C1121.0 398.7 1122.0 398.7 1123.0 398.7C1124.0 398.7 1125.0 398.7 1126.0 398.7C1127.0 398.7 1128.0 398.7 1129.0 398.7C1130.0 398.7 1131.0 398.7 1132.0 398.7C1133.0 398.7 1134.0 398.6 1135.0 398.6C1136.0 398.6 1137.0 398.6 1138.0 398.6C1139.0 398.6 1140.0 398.6 1141.0 398.6C1142.0 398.6 1143.0 398.6 1144.0 398.6C1145.0 398.6 1146.0 398.6 1147.0 398.6C1148.0 398.6 1149.0 398.6 1150.0 398.6C1151.0 398.6 1152.0 398.7 1153.0 398.7C1154.0 398.7 1155.1 398.7 1156.0 398.7C1156.9 398.7 1157.9 398.7 1158.3 398.7"/>
<path class="cv" stroke="#C12B29" d="M706.0 394.0C706.5 394.1 708.0 394.3 709.0 394.5C710.0 394.6 711.0 394.8 712.0 395.0C713.0 395.1 714.0 395.3 715.0 395.4C716.0 395.6 717.0 395.7 718.0 395.9C719.0 396.0 720.0 396.2 721.0 396.3C722.0 396.5 723.0 396.6 724.0 396.7C725.0 396.8 726.0 397.0 727.0 397.1C728.0 397.2 729.0 397.3 730.0 397.4C731.0 397.5 732.0 397.5 733.0 397.6C734.0 397.7 735.0 397.7 736.0 397.7C737.0 397.8 738.0 397.8 739.0 397.8C740.0 397.8 741.0 397.8 742.0 397.8C743.0 397.8 744.0 397.7 745.0 397.6C746.0 397.6 747.0 397.5 748.0 397.4C749.0 397.3 750.0 397.2 751.0 397.0C752.0 396.9 753.0 396.7 754.0 396.5C755.0 396.3 756.0 396.1 757.0 395.9C758.0 395.6 759.0 395.4 760.0 395.1C761.0 394.8 762.0 394.5 763.0 394.1C764.0 393.8 765.0 393.4 766.0 393.0C767.0 392.6 768.0 392.2 769.0 391.7C770.0 391.2 771.0 390.7 772.0 390.2C773.0 389.6 774.0 389.0 775.0 388.4C776.0 387.8 777.0 387.1 778.0 386.4C779.0 385.7 780.0 385.0 781.0 384.2C782.0 383.4 783.0 382.5 784.0 381.6C785.0 380.7 786.0 379.8 787.0 378.8C788.0 377.8 789.0 376.7 790.0 375.6C791.0 374.5 792.0 373.3 793.0 372.1C794.0 370.8 795.0 369.5 796.0 368.2C797.0 366.8 798.0 365.4 799.0 364.0C800.0 362.5 801.0 361.0 802.0 359.5C803.0 358.0 804.0 356.4 805.0 354.9C806.0 353.3 807.0 351.7 808.0 350.1C809.0 348.6 810.0 347.0 811.0 345.4C812.0 343.8 813.0 342.2 814.0 340.7C815.0 339.2 816.0 337.6 817.0 336.2C818.0 334.7 819.0 333.2 820.0 331.8C821.0 330.4 822.0 329.1 823.0 327.8C824.0 326.5 825.0 325.2 826.0 324.1C827.0 322.9 828.0 321.8 829.0 320.7C830.0 319.7 831.0 318.7 832.0 317.9C833.0 317.0 834.0 316.2 835.0 315.4C836.0 314.7 837.0 314.1 838.0 313.5C839.0 313.0 840.0 312.5 841.0 312.2C842.0 311.8 843.0 311.6 844.0 311.4C845.0 311.3 846.0 311.3 847.0 311.3C848.0 311.4 849.0 311.6 850.0 311.9C851.0 312.2 852.0 312.6 853.0 313.2C854.0 313.8 855.0 314.6 856.0 315.4C857.0 316.1 858.0 317.0 859.0 317.6C860.0 318.1 861.0 318.4 862.0 318.9C863.0 319.4 864.0 319.7 865.0 320.4C866.0 321.2 867.0 322.3 868.0 323.3C869.0 324.2 870.0 325.3 871.0 326.1C872.0 326.9 873.0 327.4 874.0 327.9C875.0 328.5 876.0 328.9 877.0 329.5C878.0 330.0 879.0 330.6 880.0 331.1C881.0 331.7 882.0 332.3 883.0 332.9C884.0 333.4 885.0 334.0 886.0 334.6C887.0 335.1 888.0 335.7 889.0 336.2C890.0 336.8 891.0 337.3 892.0 337.8C893.0 338.3 894.0 338.7 895.0 339.2C896.0 339.6 897.0 340.0 898.0 340.3C899.0 340.7 900.0 341.0 901.0 341.2C902.0 341.4 903.0 341.6 904.0 341.7C905.0 341.9 906.0 341.9 907.0 342.0C908.0 342.1 909.0 342.2 910.0 342.4C911.0 342.6 912.0 342.8 913.0 343.2C914.0 343.6 915.0 344.1 916.0 344.6C917.0 345.0 918.0 345.5 919.0 345.9C920.0 346.4 921.0 346.8 922.0 347.1C923.0 347.4 924.0 347.6 925.0 347.7C926.0 347.9 927.0 347.9 928.0 347.8C929.0 347.7 930.0 347.5 931.0 347.3C932.0 347.1 933.0 346.9 934.0 346.7C935.0 346.5 936.0 346.4 937.0 346.3C938.0 346.1 939.0 346.1 940.0 346.0C941.0 346.0 942.0 346.0 943.0 346.0C944.0 346.0 945.0 346.0 946.0 346.1C947.0 346.1 948.0 346.2 949.0 346.3C950.0 346.4 951.0 346.5 952.0 346.7C953.0 346.8 954.0 346.9 955.0 347.1C956.0 347.2 957.0 347.4 958.0 347.5C959.0 347.6 960.0 347.7 961.0 347.8C962.0 347.9 963.0 347.9 964.0 347.9C965.0 347.9 966.0 347.9 967.0 347.8C968.0 347.6 969.0 347.5 970.0 347.2C971.0 346.9 972.0 346.5 973.0 346.0C974.0 345.5 975.0 344.9 976.0 344.1C977.0 343.3 978.0 342.4 979.0 341.3C980.0 340.3 981.0 339.1 982.0 337.8C983.0 336.5 984.0 335.1 985.0 333.7C986.0 332.3 987.0 330.7 988.0 329.2C989.0 327.7 990.0 326.2 991.0 324.7C992.0 323.2 993.0 321.8 994.0 320.4C995.0 319.0 996.0 317.7 997.0 316.4C998.0 315.2 999.0 314.1 1000.0 312.9C1001.0 311.7 1002.0 310.5 1003.0 309.3C1004.0 308.0 1005.0 306.7 1006.0 305.3C1007.0 303.8 1008.0 302.3 1009.0 300.6C1010.0 298.8 1011.0 296.9 1012.0 294.8C1013.0 292.6 1014.0 290.1 1015.0 287.6C1016.0 285.1 1017.0 282.3 1018.0 279.6C1019.0 276.9 1020.0 274.1 1021.0 271.5C1022.0 268.8 1023.0 266.2 1024.0 263.8C1025.0 261.5 1026.0 259.3 1027.0 257.5C1028.0 255.6 1029.0 254.1 1030.0 252.9C1031.0 251.7 1032.0 250.8 1033.0 250.2C1034.0 249.5 1035.0 249.1 1036.0 248.9C1037.0 248.7 1038.0 248.7 1039.0 248.8C1040.0 249.0 1041.0 249.3 1042.0 249.7C1043.0 250.1 1044.0 250.5 1045.0 251.1C1046.0 251.7 1047.0 252.3 1048.0 253.2C1049.0 254.2 1050.0 255.2 1051.0 256.7C1052.0 258.3 1053.0 260.0 1054.0 262.3C1055.0 264.7 1056.0 267.4 1057.0 270.7C1058.0 274.1 1059.0 278.4 1060.0 282.5C1061.0 286.6 1062.0 291.6 1063.0 295.3C1064.0 298.9 1065.0 301.7 1066.0 304.4C1067.0 307.0 1068.0 309.0 1069.0 311.1C1070.0 313.1 1071.0 314.9 1072.0 316.6C1073.0 318.4 1074.0 319.9 1075.0 321.5C1076.0 323.1 1077.0 324.7 1078.0 326.2C1079.0 327.8 1080.0 329.3 1081.0 330.9C1082.0 332.5 1083.0 334.0 1084.0 335.6C1085.0 337.2 1086.0 338.8 1087.0 340.3C1088.0 341.9 1089.0 343.5 1090.0 345.1C1091.0 346.7 1092.0 348.3 1093.0 349.9C1094.0 351.5 1095.0 353.1 1096.0 354.7C1097.0 356.3 1098.0 357.9 1099.0 359.4C1100.0 361.0 1101.0 362.5 1102.0 364.0C1103.0 365.5 1104.0 367.0 1105.0 368.4C1106.0 369.8 1107.0 371.2 1108.0 372.5C1109.0 373.9 1110.0 375.2 1111.0 376.4C1112.0 377.7 1113.0 378.9 1114.0 380.0C1115.0 381.1 1116.0 382.1 1117.0 383.1C1118.0 384.1 1119.0 385.1 1120.0 385.9C1121.0 386.8 1122.0 387.6 1123.0 388.4C1124.0 389.2 1125.0 389.9 1126.0 390.5C1127.0 391.2 1128.0 391.8 1129.0 392.4C1130.0 392.9 1131.0 393.4 1132.0 393.9C1133.0 394.4 1134.0 394.8 1135.0 395.2C1136.0 395.6 1137.0 395.9 1138.0 396.3C1139.0 396.6 1140.0 396.8 1141.0 397.1C1142.0 397.3 1143.0 397.5 1144.0 397.7C1145.0 397.9 1146.0 398.0 1147.0 398.2C1148.0 398.3 1149.0 398.4 1150.0 398.4C1151.0 398.5 1152.0 398.6 1153.0 398.6C1154.0 398.6 1155.1 398.6 1156.0 398.6C1156.9 398.6 1157.9 398.6 1158.3 398.5"/>
<path class="cv" stroke="#DB972B" d="M706.0 398.0C706.5 398.0 708.0 398.1 709.0 398.2C710.0 398.2 711.0 398.2 712.0 398.3C713.0 398.3 714.0 398.3 715.0 398.4C716.0 398.4 717.0 398.4 718.0 398.5C719.0 398.5 720.0 398.5 721.0 398.6C722.0 398.6 723.0 398.6 724.0 398.6C725.0 398.6 726.0 398.7 727.0 398.7C728.0 398.7 729.0 398.7 730.0 398.7C731.0 398.7 732.0 398.7 733.0 398.7C734.0 398.7 735.0 398.7 736.0 398.7C737.0 398.7 738.0 398.7 739.0 398.7C740.0 398.7 741.0 398.7 742.0 398.7C743.0 398.7 744.0 398.6 745.0 398.6C746.0 398.6 747.0 398.6 748.0 398.5C749.0 398.5 750.0 398.5 751.0 398.4C752.0 398.4 753.0 398.3 754.0 398.3C755.0 398.2 756.0 398.2 757.0 398.1C758.0 398.1 759.0 398.0 760.0 397.9C761.0 397.9 762.0 397.8 763.0 397.7C764.0 397.6 765.0 397.6 766.0 397.5C767.0 397.4 768.0 397.3 769.0 397.2C770.0 397.1 771.0 397.0 772.0 396.8C773.0 396.7 774.0 396.6 775.0 396.4C776.0 396.2 777.0 396.0 778.0 395.8C779.0 395.6 780.0 395.4 781.0 395.1C782.0 394.8 783.0 394.5 784.0 394.2C785.0 393.9 786.0 393.5 787.0 393.1C788.0 392.7 789.0 392.2 790.0 391.7C791.0 391.2 792.0 390.7 793.0 390.1C794.0 389.5 795.0 388.9 796.0 388.2C797.0 387.5 798.0 386.7 799.0 385.9C800.0 385.1 801.0 384.2 802.0 383.2C803.0 382.3 804.0 381.3 805.0 380.2C806.0 379.1 807.0 378.0 808.0 376.7C809.0 375.5 810.0 374.2 811.0 372.8C812.0 371.4 813.0 370.0 814.0 368.4C815.0 366.9 816.0 365.2 817.0 363.5C818.0 361.8 819.0 360.0 820.0 358.0C821.0 356.1 822.0 354.0 823.0 351.8C824.0 349.6 825.0 347.3 826.0 344.8C827.0 342.2 828.0 339.6 829.0 336.7C830.0 333.8 831.0 330.7 832.0 327.5C833.0 324.3 834.0 320.9 835.0 317.4C836.0 314.0 837.0 310.4 838.0 306.9C839.0 303.3 840.0 299.6 841.0 296.1C842.0 292.5 843.0 289.0 844.0 285.5C845.0 282.0 846.0 278.6 847.0 275.3C848.0 271.9 849.0 268.6 850.0 265.3C851.0 262.1 852.0 258.9 853.0 255.7C854.0 252.5 855.0 249.4 856.0 246.3C857.0 243.3 858.0 240.2 859.0 237.2C860.0 234.3 861.0 231.3 862.0 228.6C863.0 225.8 864.0 223.1 865.0 220.7C866.0 218.2 867.0 215.9 868.0 213.9C869.0 211.8 870.0 210.1 871.0 208.5C872.0 206.9 873.0 205.7 874.0 204.4C875.0 203.1 876.0 201.9 877.0 200.6C878.0 199.3 879.0 198.0 880.0 196.7C881.0 195.5 882.0 194.2 883.0 193.0C884.0 191.8 885.0 190.7 886.0 189.7C887.0 188.6 888.0 187.7 889.0 186.9C890.0 186.1 891.0 185.4 892.0 184.8C893.0 184.2 894.0 183.7 895.0 183.3C896.0 182.9 897.0 182.6 898.0 182.3C899.0 182.1 900.0 181.9 901.0 181.8C902.0 181.7 903.0 181.7 904.0 181.7C905.0 181.6 906.0 181.6 907.0 181.5C908.0 181.5 909.0 181.4 910.0 181.2C911.0 181.0 912.0 180.8 913.0 180.4C914.0 180.0 915.0 179.4 916.0 178.7C917.0 178.1 918.0 177.3 919.0 176.4C920.0 175.5 921.0 174.5 922.0 173.5C923.0 172.5 924.0 171.4 925.0 170.3C926.0 169.2 927.0 168.0 928.0 166.9C929.0 165.8 930.0 164.6 931.0 163.5C932.0 162.5 933.0 161.3 934.0 160.5C935.0 159.6 936.0 158.7 937.0 158.3C938.0 158.0 939.0 157.7 940.0 158.1C941.0 158.5 942.0 159.4 943.0 160.7C944.0 162.0 945.0 164.2 946.0 165.8C947.0 167.4 948.0 169.2 949.0 170.1C950.0 171.1 951.0 171.6 952.0 171.6C953.0 171.6 954.0 171.1 955.0 170.1C956.0 169.2 957.0 167.6 958.0 165.8C959.0 164.0 960.0 161.5 961.0 159.1C962.0 156.7 963.0 154.0 964.0 151.6C965.0 149.2 966.0 146.8 967.0 144.6C968.0 142.4 969.0 140.3 970.0 138.4C971.0 136.5 972.0 134.7 973.0 133.0C974.0 131.3 975.0 129.8 976.0 128.4C977.0 127.0 978.0 125.7 979.0 124.6C980.0 123.5 981.0 122.5 982.0 121.7C983.0 120.9 984.0 120.2 985.0 119.7C986.0 119.2 987.0 118.9 988.0 118.7C989.0 118.5 990.0 118.5 991.0 118.6C992.0 118.7 993.0 119.0 994.0 119.5C995.0 120.0 996.0 120.6 997.0 121.4C998.0 122.3 999.0 123.2 1000.0 124.4C1001.0 125.6 1002.0 126.9 1003.0 128.4C1004.0 130.0 1005.0 131.7 1006.0 133.6C1007.0 135.5 1008.0 137.6 1009.0 139.8C1010.0 142.1 1011.0 144.6 1012.0 147.3C1013.0 149.9 1014.0 152.8 1015.0 155.8C1016.0 158.9 1017.0 162.2 1018.0 165.6C1019.0 169.1 1020.0 172.7 1021.0 176.7C1022.0 180.6 1023.0 184.6 1024.0 189.6C1025.0 194.5 1026.0 200.7 1027.0 206.4C1028.0 212.0 1029.0 218.4 1030.0 223.5C1031.0 228.5 1032.0 232.4 1033.0 236.6C1034.0 240.8 1035.0 244.6 1036.0 248.7C1037.0 252.9 1038.0 257.2 1039.0 261.6C1040.0 265.9 1041.0 270.4 1042.0 274.8C1043.0 279.2 1044.0 283.7 1045.0 288.0C1046.0 292.4 1047.0 296.7 1048.0 300.8C1049.0 304.9 1050.0 308.9 1051.0 312.7C1052.0 316.5 1053.0 320.2 1054.0 323.6C1055.0 327.1 1056.0 330.4 1057.0 333.5C1058.0 336.6 1059.0 339.6 1060.0 342.4C1061.0 345.2 1062.0 347.9 1063.0 350.4C1064.0 352.9 1065.0 355.3 1066.0 357.5C1067.0 359.7 1068.0 361.9 1069.0 363.8C1070.0 365.8 1071.0 367.7 1072.0 369.4C1073.0 371.2 1074.0 372.8 1075.0 374.3C1076.0 375.8 1077.0 377.2 1078.0 378.5C1079.0 379.9 1080.0 381.1 1081.0 382.2C1082.0 383.3 1083.0 384.3 1084.0 385.3C1085.0 386.3 1086.0 387.1 1087.0 387.9C1088.0 388.7 1089.0 389.5 1090.0 390.1C1091.0 390.8 1092.0 391.4 1093.0 391.9C1094.0 392.5 1095.0 393.0 1096.0 393.4C1097.0 393.9 1098.0 394.3 1099.0 394.7C1100.0 395.0 1101.0 395.4 1102.0 395.7C1103.0 396.0 1104.0 396.3 1105.0 396.5C1106.0 396.8 1107.0 397.0 1108.0 397.2C1109.0 397.4 1110.0 397.6 1111.0 397.7C1112.0 397.9 1113.0 398.0 1114.0 398.2C1115.0 398.3 1116.0 398.4 1117.0 398.5C1118.0 398.5 1119.0 398.6 1120.0 398.7C1121.0 398.7 1122.0 398.7 1123.0 398.7C1124.0 398.7 1125.0 398.7 1126.0 398.7C1127.0 398.7 1128.0 398.7 1129.0 398.7C1130.0 398.7 1131.0 398.7 1132.0 398.7C1133.0 398.7 1134.0 398.7 1135.0 398.7C1136.0 398.7 1137.0 398.7 1138.0 398.7C1139.0 398.6 1140.0 398.6 1141.0 398.6C1142.0 398.6 1143.0 398.5 1144.0 398.5C1145.0 398.5 1146.0 398.5 1147.0 398.5C1148.0 398.5 1149.0 398.5 1150.0 398.5C1151.0 398.5 1152.0 398.6 1153.0 398.6C1154.0 398.6 1155.1 398.7 1156.0 398.7C1156.9 398.7 1157.9 398.7 1158.3 398.7"/>
<path class="cv" stroke="#D07343" d="M706.0 396.0C706.5 396.1 708.0 396.5 709.0 396.7C710.0 396.9 711.0 397.1 712.0 397.2C713.0 397.4 714.0 397.5 715.0 397.6C716.0 397.7 717.0 397.8 718.0 397.9C719.0 397.9 720.0 398.0 721.0 398.0C722.0 398.1 723.0 398.1 724.0 398.1C725.0 398.1 726.0 398.1 727.0 398.1C728.0 398.1 729.0 398.1 730.0 398.1C731.0 398.0 732.0 398.0 733.0 398.0C734.0 398.0 735.0 397.9 736.0 397.9C737.0 397.9 738.0 397.9 739.0 397.9C740.0 397.9 741.0 397.9 742.0 397.9C743.0 397.8 744.0 397.8 745.0 397.8C746.0 397.8 747.0 397.7 748.0 397.7C749.0 397.6 750.0 397.6 751.0 397.5C752.0 397.4 753.0 397.3 754.0 397.2C755.0 397.0 756.0 396.9 757.0 396.7C758.0 396.5 759.0 396.3 760.0 396.0C761.0 395.8 762.0 395.5 763.0 395.2C764.0 394.8 765.0 394.4 766.0 394.0C767.0 393.6 768.0 393.1 769.0 392.6C770.0 392.1 771.0 391.6 772.0 390.9C773.0 390.3 774.0 389.6 775.0 388.9C776.0 388.2 777.0 387.4 778.0 386.5C779.0 385.7 780.0 384.8 781.0 383.8C782.0 382.8 783.0 381.8 784.0 380.7C785.0 379.6 786.0 378.4 787.0 377.1C788.0 375.9 789.0 374.6 790.0 373.1C791.0 371.7 792.0 370.3 793.0 368.7C794.0 367.1 795.0 365.5 796.0 363.8C797.0 362.1 798.0 360.2 799.0 358.3C800.0 356.5 801.0 354.5 802.0 352.4C803.0 350.4 804.0 348.3 805.0 346.1C806.0 343.9 807.0 341.7 808.0 339.4C809.0 337.2 810.0 334.8 811.0 332.5C812.0 330.1 813.0 327.8 814.0 325.4C815.0 323.0 816.0 320.5 817.0 318.1C818.0 315.7 819.0 313.2 820.0 310.8C821.0 308.4 822.0 305.9 823.0 303.5C824.0 301.1 825.0 298.7 826.0 296.2C827.0 293.8 828.0 291.4 829.0 289.0C830.0 286.6 831.0 284.2 832.0 281.9C833.0 279.5 834.0 277.1 835.0 274.7C836.0 272.3 837.0 269.8 838.0 267.5C839.0 265.2 840.0 262.8 841.0 260.7C842.0 258.6 843.0 256.6 844.0 254.9C845.0 253.2 846.0 251.7 847.0 250.6C848.0 249.4 849.0 248.5 850.0 247.8C851.0 247.1 852.0 246.7 853.0 246.3C854.0 246.0 855.0 245.8 856.0 245.7C857.0 245.7 858.0 245.8 859.0 246.0C860.0 246.2 861.0 246.5 862.0 246.9C863.0 247.4 864.0 247.9 865.0 248.5C866.0 249.1 867.0 249.9 868.0 250.6C869.0 251.4 870.0 252.3 871.0 253.2C872.0 254.1 873.0 255.1 874.0 256.1C875.0 257.1 876.0 258.1 877.0 259.2C878.0 260.2 879.0 261.3 880.0 262.4C881.0 263.5 882.0 264.6 883.0 265.7C884.0 266.8 885.0 267.9 886.0 268.9C887.0 270.0 888.0 271.0 889.0 272.1C890.0 273.1 891.0 274.1 892.0 275.0C893.0 276.0 894.0 276.9 895.0 277.7C896.0 278.6 897.0 279.4 898.0 280.1C899.0 280.8 900.0 281.5 901.0 282.1C902.0 282.8 903.0 283.3 904.0 283.9C905.0 284.4 906.0 284.9 907.0 285.4C908.0 285.9 909.0 286.3 910.0 286.8C911.0 287.2 912.0 287.6 913.0 288.0C914.0 288.4 915.0 288.8 916.0 289.2C917.0 289.6 918.0 289.9 919.0 290.2C920.0 290.6 921.0 290.9 922.0 291.1C923.0 291.4 924.0 291.6 925.0 291.8C926.0 292.0 927.0 292.2 928.0 292.3C929.0 292.4 930.0 292.5 931.0 292.5C932.0 292.6 933.0 292.6 934.0 292.5C935.0 292.4 936.0 292.3 937.0 292.2C938.0 292.0 939.0 291.8 940.0 291.5C941.0 291.2 942.0 290.8 943.0 290.3C944.0 289.9 945.0 289.3 946.0 288.6C947.0 287.9 948.0 287.1 949.0 286.1C950.0 285.1 951.0 283.9 952.0 282.6C953.0 281.3 954.0 279.7 955.0 278.0C956.0 276.3 957.0 274.4 958.0 272.4C959.0 270.4 960.0 268.3 961.0 266.1C962.0 263.9 963.0 261.6 964.0 259.3C965.0 257.1 966.0 254.8 967.0 252.5C968.0 250.3 969.0 248.0 970.0 245.8C971.0 243.5 972.0 241.2 973.0 238.9C974.0 236.6 975.0 234.3 976.0 231.8C977.0 229.4 978.0 226.9 979.0 224.3C980.0 221.7 981.0 219.0 982.0 216.4C983.0 213.7 984.0 211.0 985.0 208.3C986.0 205.6 987.0 202.9 988.0 200.3C989.0 197.7 990.0 195.1 991.0 192.7C992.0 190.3 993.0 187.9 994.0 185.7C995.0 183.5 996.0 181.4 997.0 179.5C998.0 177.6 999.0 175.8 1000.0 174.2C1001.0 172.6 1002.0 171.2 1003.0 170.0C1004.0 168.7 1005.0 167.7 1006.0 166.8C1007.0 165.9 1008.0 165.2 1009.0 164.8C1010.0 164.3 1011.0 164.0 1012.0 164.0C1013.0 164.0 1014.0 164.1 1015.0 164.5C1016.0 164.9 1017.0 165.6 1018.0 166.4C1019.0 167.3 1020.0 168.5 1021.0 169.8C1022.0 171.2 1023.0 172.9 1024.0 174.8C1025.0 176.7 1026.0 178.9 1027.0 181.3C1028.0 183.8 1029.0 186.6 1030.0 189.6C1031.0 192.6 1032.0 195.9 1033.0 199.3C1034.0 202.8 1035.0 206.5 1036.0 210.2C1037.0 214.0 1038.0 217.9 1039.0 221.8C1040.0 225.7 1041.0 229.7 1042.0 233.6C1043.0 237.5 1044.0 241.4 1045.0 245.2C1046.0 249.0 1047.0 252.7 1048.0 256.3C1049.0 260.0 1050.0 263.6 1051.0 267.1C1052.0 270.7 1053.0 274.2 1054.0 277.6C1055.0 281.1 1056.0 284.5 1057.0 287.9C1058.0 291.3 1059.0 294.6 1060.0 297.8C1061.0 301.1 1062.0 304.3 1063.0 307.5C1064.0 310.6 1065.0 313.7 1066.0 316.7C1067.0 319.7 1068.0 322.7 1069.0 325.6C1070.0 328.5 1071.0 331.3 1072.0 334.0C1073.0 336.7 1074.0 339.4 1075.0 341.9C1076.0 344.5 1077.0 346.9 1078.0 349.3C1079.0 351.7 1080.0 354.0 1081.0 356.2C1082.0 358.3 1083.0 360.4 1084.0 362.4C1085.0 364.4 1086.0 366.3 1087.0 368.0C1088.0 369.8 1089.0 371.4 1090.0 373.0C1091.0 374.6 1092.0 376.0 1093.0 377.4C1094.0 378.8 1095.0 380.1 1096.0 381.2C1097.0 382.4 1098.0 383.5 1099.0 384.6C1100.0 385.6 1101.0 386.5 1102.0 387.4C1103.0 388.3 1104.0 389.1 1105.0 389.8C1106.0 390.6 1107.0 391.2 1108.0 391.8C1109.0 392.4 1110.0 393.0 1111.0 393.5C1112.0 394.0 1113.0 394.4 1114.0 394.8C1115.0 395.2 1116.0 395.5 1117.0 395.8C1118.0 396.1 1119.0 396.4 1120.0 396.6C1121.0 396.8 1122.0 397.0 1123.0 397.2C1124.0 397.4 1125.0 397.5 1126.0 397.6C1127.0 397.7 1128.0 397.8 1129.0 397.9C1130.0 398.0 1131.0 398.1 1132.0 398.1C1133.0 398.2 1134.0 398.2 1135.0 398.3C1136.0 398.3 1137.0 398.4 1138.0 398.4C1139.0 398.5 1140.0 398.5 1141.0 398.6C1142.0 398.6 1143.0 398.7 1144.0 398.7C1145.0 398.7 1146.0 398.7 1147.0 398.7C1148.0 398.7 1149.0 398.7 1150.0 398.7C1151.0 398.7 1152.0 398.7 1153.0 398.7C1154.0 398.7 1155.1 398.7 1156.0 398.7C1156.9 398.7 1157.9 398.6 1158.3 398.6"/>
<path class="cv" stroke="#70161B" d="M706.0 391.9C706.5 392.1 708.0 392.7 709.0 393.0C710.0 393.3 711.0 393.6 712.0 393.8C713.0 394.1 714.0 394.3 715.0 394.5C716.0 394.7 717.0 394.9 718.0 395.0C719.0 395.2 720.0 395.3 721.0 395.4C722.0 395.5 723.0 395.6 724.0 395.7C725.0 395.8 726.0 395.9 727.0 395.9C728.0 396.0 729.0 396.1 730.0 396.1C731.0 396.2 732.0 396.2 733.0 396.3C734.0 396.3 735.0 396.4 736.0 396.4C737.0 396.5 738.0 396.5 739.0 396.6C740.0 396.6 741.0 396.6 742.0 396.7C743.0 396.7 744.0 396.7 745.0 396.7C746.0 396.7 747.0 396.6 748.0 396.6C749.0 396.5 750.0 396.4 751.0 396.3C752.0 396.2 753.0 396.1 754.0 395.9C755.0 395.7 756.0 395.5 757.0 395.2C758.0 395.0 759.0 394.7 760.0 394.3C761.0 394.0 762.0 393.6 763.0 393.2C764.0 392.7 765.0 392.2 766.0 391.7C767.0 391.1 768.0 390.5 769.0 389.8C770.0 389.2 771.0 388.5 772.0 387.8C773.0 387.0 774.0 386.2 775.0 385.4C776.0 384.5 777.0 383.7 778.0 382.8C779.0 381.8 780.0 380.9 781.0 379.9C782.0 378.9 783.0 377.9 784.0 376.9C785.0 375.8 786.0 374.7 787.0 373.6C788.0 372.5 789.0 371.4 790.0 370.2C791.0 369.0 792.0 367.8 793.0 366.6C794.0 365.4 795.0 364.2 796.0 362.9C797.0 361.7 798.0 360.4 799.0 359.1C800.0 357.8 801.0 356.5 802.0 355.3C803.0 354.0 804.0 352.7 805.0 351.4C806.0 350.1 807.0 348.9 808.0 347.6C809.0 346.4 810.0 345.2 811.0 344.1C812.0 342.9 813.0 341.8 814.0 340.8C815.0 339.8 816.0 338.8 817.0 337.9C818.0 337.0 819.0 336.2 820.0 335.5C821.0 334.7 822.0 334.1 823.0 333.6C824.0 333.1 825.0 332.7 826.0 332.4C827.0 332.1 828.0 331.9 829.0 331.9C830.0 331.8 831.0 331.8 832.0 331.9C833.0 332.0 834.0 332.2 835.0 332.5C836.0 332.7 837.0 333.0 838.0 333.4C839.0 333.7 840.0 334.1 841.0 334.5C842.0 334.9 843.0 335.3 844.0 335.7C845.0 336.1 846.0 336.5 847.0 337.0C848.0 337.4 849.0 337.8 850.0 338.3C851.0 338.7 852.0 339.1 853.0 339.6C854.0 340.0 855.0 340.4 856.0 340.8C857.0 341.2 858.0 341.6 859.0 342.0C860.0 342.4 861.0 342.8 862.0 343.2C863.0 343.6 864.0 344.0 865.0 344.4C866.0 344.7 867.0 345.1 868.0 345.5C869.0 345.9 870.0 346.4 871.0 346.8C872.0 347.2 873.0 347.6 874.0 348.1C875.0 348.5 876.0 348.9 877.0 349.3C878.0 349.7 879.0 350.1 880.0 350.5C881.0 350.9 882.0 351.3 883.0 351.6C884.0 351.9 885.0 352.2 886.0 352.5C887.0 352.8 888.0 353.0 889.0 353.3C890.0 353.5 891.0 353.7 892.0 353.9C893.0 354.1 894.0 354.3 895.0 354.5C896.0 354.6 897.0 354.8 898.0 354.9C899.0 355.1 900.0 355.2 901.0 355.3C902.0 355.5 903.0 355.6 904.0 355.7C905.0 355.8 906.0 355.9 907.0 356.1C908.0 356.2 909.0 356.3 910.0 356.4C911.0 356.5 912.0 356.7 913.0 356.8C914.0 356.9 915.0 357.0 916.0 357.2C917.0 357.3 918.0 357.4 919.0 357.5C920.0 357.7 921.0 357.8 922.0 357.9C923.0 358.1 924.0 358.2 925.0 358.3C926.0 358.4 927.0 358.6 928.0 358.7C929.0 358.8 930.0 358.9 931.0 359.1C932.0 359.2 933.0 359.3 934.0 359.4C935.0 359.5 936.0 359.6 937.0 359.7C938.0 359.8 939.0 359.9 940.0 360.0C941.0 360.1 942.0 360.2 943.0 360.3C944.0 360.4 945.0 360.4 946.0 360.5C947.0 360.6 948.0 360.7 949.0 360.7C950.0 360.8 951.0 360.9 952.0 361.0C953.0 361.0 954.0 361.1 955.0 361.1C956.0 361.2 957.0 361.3 958.0 361.3C959.0 361.4 960.0 361.4 961.0 361.5C962.0 361.5 963.0 361.6 964.0 361.6C965.0 361.6 966.0 361.7 967.0 361.7C968.0 361.7 969.0 361.7 970.0 361.7C971.0 361.7 972.0 361.7 973.0 361.7C974.0 361.7 975.0 361.6 976.0 361.5C977.0 361.5 978.0 361.4 979.0 361.2C980.0 361.1 981.0 360.9 982.0 360.7C983.0 360.5 984.0 360.3 985.0 360.0C986.0 359.8 987.0 359.4 988.0 359.1C989.0 358.7 990.0 358.3 991.0 357.9C992.0 357.4 993.0 356.9 994.0 356.4C995.0 355.8 996.0 355.2 997.0 354.6C998.0 353.9 999.0 353.2 1000.0 352.4C1001.0 351.6 1002.0 350.8 1003.0 349.9C1004.0 349.0 1005.0 348.1 1006.0 347.1C1007.0 346.1 1008.0 345.1 1009.0 344.0C1010.0 342.9 1011.0 341.7 1012.0 340.5C1013.0 339.3 1014.0 338.0 1015.0 336.7C1016.0 335.4 1017.0 334.1 1018.0 332.7C1019.0 331.3 1020.0 329.9 1021.0 328.4C1022.0 327.0 1023.0 325.5 1024.0 324.0C1025.0 322.5 1026.0 321.0 1027.0 319.5C1028.0 318.0 1029.0 316.5 1030.0 315.0C1031.0 313.6 1032.0 312.1 1033.0 310.7C1034.0 309.3 1035.0 307.9 1036.0 306.6C1037.0 305.3 1038.0 304.0 1039.0 302.8C1040.0 301.7 1041.0 300.6 1042.0 299.6C1043.0 298.6 1044.0 297.7 1045.0 296.9C1046.0 296.1 1047.0 295.5 1048.0 295.0C1049.0 294.4 1050.0 294.0 1051.0 293.8C1052.0 293.6 1053.0 293.6 1054.0 293.7C1055.0 293.8 1056.0 294.1 1057.0 294.5C1058.0 295.0 1059.0 295.6 1060.0 296.3C1061.0 297.1 1062.0 298.0 1063.0 299.0C1064.0 300.0 1065.0 301.1 1066.0 302.3C1067.0 303.5 1068.0 304.9 1069.0 306.3C1070.0 307.7 1071.0 309.2 1072.0 310.8C1073.0 312.4 1074.0 314.0 1075.0 315.7C1076.0 317.4 1077.0 319.2 1078.0 320.9C1079.0 322.7 1080.0 324.5 1081.0 326.3C1082.0 328.2 1083.0 330.0 1084.0 331.8C1085.0 333.7 1086.0 335.5 1087.0 337.3C1088.0 339.1 1089.0 340.9 1090.0 342.7C1091.0 344.4 1092.0 346.1 1093.0 347.8C1094.0 349.5 1095.0 351.2 1096.0 352.8C1097.0 354.4 1098.0 356.0 1099.0 357.5C1100.0 359.0 1101.0 360.5 1102.0 362.0C1103.0 363.4 1104.0 364.8 1105.0 366.2C1106.0 367.5 1107.0 368.9 1108.0 370.1C1109.0 371.4 1110.0 372.6 1111.0 373.8C1112.0 374.9 1113.0 376.1 1114.0 377.1C1115.0 378.2 1116.0 379.2 1117.0 380.2C1118.0 381.2 1119.0 382.1 1120.0 383.0C1121.0 383.9 1122.0 384.7 1123.0 385.5C1124.0 386.3 1125.0 387.1 1126.0 387.8C1127.0 388.5 1128.0 389.2 1129.0 389.8C1130.0 390.4 1131.0 391.0 1132.0 391.6C1133.0 392.1 1134.0 392.7 1135.0 393.1C1136.0 393.6 1137.0 394.0 1138.0 394.5C1139.0 394.9 1140.0 395.2 1141.0 395.6C1142.0 395.9 1143.0 396.2 1144.0 396.5C1145.0 396.7 1146.0 397.0 1147.0 397.2C1148.0 397.4 1149.0 397.5 1150.0 397.7C1151.0 397.8 1152.0 397.9 1153.0 398.0C1154.0 398.1 1155.1 398.2 1156.0 398.2C1156.9 398.2 1157.9 398.2 1158.3 398.2"/>
<rect class="ax" x="702.00" y="55.96" width="460.40" height="346.59"/>
<path class="ax" d="M705.90 402.55V415.30M781.33 402.55V427.10M856.75 402.55V415.30M932.17 402.55V427.10M1007.60 402.55V415.30M1083.03 402.55V427.10M1158.45 402.55V415.30M677.10 398.84H702.00M677.10 263.27H702.00M677.10 127.70H702.00"/>
<text class="big" text-anchor="middle" transform="translate(781.62,463.90) scale(1,1.050)">-20</text>
<text class="big" text-anchor="middle" transform="translate(932.17,463.90) scale(1,1.050)">0</text>
<text class="big" text-anchor="middle" transform="translate(1083.03,463.90) scale(1,1.050)">20</text>
<text class="big" text-anchor="end" transform="translate(669.60,410.44) scale(1,1.055)">0</text>
<text class="big" text-anchor="end" transform="translate(669.60,274.87) scale(1,1.055)">10</text>
<text class="big" text-anchor="end" transform="translate(669.60,139.30) scale(1,1.055)">20</text>
<text class="big" text-anchor="middle" transform="translate(934.17,509.60) scale(1,1.000)">Delay (fs)</text>
<text class="big" text-anchor="middle" transform="translate(932.17,23.50) scale(1,1.035)">HH 15</text>
<text class="big" text-anchor="start" transform="translate(632.20,25.20) scale(1,1.000)">(b)</text>
<path d="M1037.25 78.70H1066.35" stroke="#B1C530" stroke-width="3.5" fill="none"/>
<text class="leg" x="1072.75" y="83.35">2.7 TW/cm<tspan class="sup" dx="0.3" dy="-9.0">2</tspan></text>
<path d="M1037.25 102.60H1066.35" stroke="#DB972B" stroke-width="3.5" fill="none"/>
<text class="leg" x="1072.75" y="107.25">4.0 TW/cm<tspan class="sup" dx="0.3" dy="-9.0">2</tspan></text>
<path d="M1037.25 126.50H1066.35" stroke="#D07343" stroke-width="3.5" fill="none"/>
<text class="leg" x="1072.75" y="131.15">5.4 TW/cm<tspan class="sup" dx="0.3" dy="-9.0">2</tspan></text>
<path d="M1037.25 150.40H1066.35" stroke="#C12B29" stroke-width="3.5" fill="none"/>
<text class="leg" x="1072.75" y="155.05">6.7 TW/cm<tspan class="sup" dx="0.3" dy="-9.0">2</tspan></text>
<path d="M1037.25 174.30H1066.35" stroke="#70161B" stroke-width="3.5" fill="none"/>
<text class="leg" x="1072.75" y="178.95">8.1 TW/cm<tspan class="sup" dx="0.3" dy="-9.0">2</tspan></text>
</g>
<g id="panel-c">
<path class="cv" stroke="#B1C530" d="M1263.0 398.7C1263.5 398.7 1265.0 398.6 1266.0 398.6C1267.0 398.5 1268.0 398.5 1269.0 398.5C1270.0 398.4 1271.0 398.4 1272.0 398.4C1273.0 398.4 1274.0 398.3 1275.0 398.3C1276.0 398.3 1277.0 398.3 1278.0 398.3C1279.0 398.2 1280.0 398.2 1281.0 398.2C1282.0 398.2 1283.0 398.2 1284.0 398.2C1285.0 398.1 1286.0 398.1 1287.0 398.1C1288.0 398.1 1289.0 398.1 1290.0 398.1C1291.0 398.1 1292.0 398.1 1293.0 398.1C1294.0 398.1 1295.0 398.1 1296.0 398.1C1297.0 398.1 1298.0 398.1 1299.0 398.1C1300.0 398.1 1301.0 398.1 1302.0 398.1C1303.0 398.1 1304.0 398.1 1305.0 398.1C1306.0 398.1 1307.0 398.1 1308.0 398.1C1309.0 398.2 1310.0 398.2 1311.0 398.2C1312.0 398.2 1313.0 398.3 1314.0 398.2C1315.0 398.2 1316.0 398.1 1317.0 398.0C1318.0 397.9 1319.0 397.7 1320.0 397.4C1321.0 397.2 1322.0 396.8 1323.0 396.3C1324.0 395.9 1325.0 395.3 1326.0 394.8C1327.0 394.2 1328.0 393.5 1329.0 393.0C1330.0 392.4 1331.0 391.8 1332.0 391.4C1333.0 390.9 1334.0 390.6 1335.0 390.3C1336.0 390.0 1337.0 389.8 1338.0 389.6C1339.0 389.4 1340.0 389.3 1341.0 389.1C1342.0 389.0 1343.0 388.9 1344.0 388.7C1345.0 388.5 1346.0 388.4 1347.0 388.1C1348.0 387.9 1349.0 387.7 1350.0 387.3C1351.0 387.0 1352.0 386.6 1353.0 386.1C1354.0 385.6 1355.0 385.0 1356.0 384.4C1357.0 383.7 1358.0 382.9 1359.0 381.9C1360.0 381.0 1361.0 380.0 1362.0 378.8C1363.0 377.6 1364.0 376.2 1365.0 374.8C1366.0 373.3 1367.0 371.5 1368.0 369.9C1369.0 368.2 1370.0 366.4 1371.0 364.8C1372.0 363.3 1373.0 361.9 1374.0 360.5C1375.0 359.1 1376.0 357.9 1377.0 356.6C1378.0 355.3 1379.0 354.1 1380.0 352.8C1381.0 351.5 1382.0 350.2 1383.0 348.8C1384.0 347.3 1385.0 345.9 1386.0 344.2C1387.0 342.6 1388.0 340.8 1389.0 339.0C1390.0 337.1 1391.0 335.1 1392.0 333.0C1393.0 330.9 1394.0 328.7 1395.0 326.4C1396.0 324.1 1397.0 321.7 1398.0 319.1C1399.0 316.6 1400.0 314.0 1401.0 311.3C1402.0 308.6 1403.0 305.8 1404.0 302.9C1405.0 300.1 1406.0 297.2 1407.0 294.2C1408.0 291.2 1409.0 288.2 1410.0 285.1C1411.0 282.0 1412.0 278.9 1413.0 275.8C1414.0 272.6 1415.0 269.4 1416.0 266.1C1417.0 262.9 1418.0 259.6 1419.0 256.2C1420.0 252.8 1421.0 249.4 1422.0 245.8C1423.0 242.3 1424.0 238.7 1425.0 235.0C1426.0 231.4 1427.0 227.6 1428.0 223.8C1429.0 220.0 1430.0 216.1 1431.0 212.3C1432.0 208.4 1433.0 204.4 1434.0 200.5C1435.0 196.6 1436.0 192.6 1437.0 188.6C1438.0 184.7 1439.0 180.7 1440.0 176.8C1441.0 173.0 1442.0 169.1 1443.0 165.5C1444.0 162.0 1445.0 158.5 1446.0 155.4C1447.0 152.4 1448.0 149.5 1449.0 147.2C1450.0 144.9 1451.0 142.9 1452.0 141.5C1453.0 140.0 1454.0 139.2 1455.0 138.4C1456.0 137.7 1457.0 137.4 1458.0 137.0C1459.0 136.6 1460.0 136.4 1461.0 135.9C1462.0 135.4 1463.0 134.8 1464.0 134.1C1465.0 133.4 1466.0 132.5 1467.0 131.8C1468.0 131.0 1469.0 130.1 1470.0 129.5C1471.0 128.9 1472.0 128.4 1473.0 128.2C1474.0 128.0 1475.0 128.0 1476.0 128.5C1477.0 129.0 1478.0 129.8 1479.0 131.1C1480.0 132.5 1481.0 134.4 1482.0 136.6C1483.0 138.8 1484.0 141.4 1485.0 144.3C1486.0 147.1 1487.0 150.3 1488.0 153.5C1489.0 156.7 1490.0 160.2 1491.0 163.6C1492.0 167.1 1493.0 170.6 1494.0 174.2C1495.0 177.8 1496.0 181.4 1497.0 185.1C1498.0 188.9 1499.0 192.6 1500.0 196.5C1501.0 200.3 1502.0 204.2 1503.0 208.2C1504.0 212.2 1505.0 216.3 1506.0 220.3C1507.0 224.4 1508.0 228.6 1509.0 232.7C1510.0 236.9 1511.0 241.0 1512.0 245.2C1513.0 249.3 1514.0 253.4 1515.0 257.5C1516.0 261.5 1517.0 265.5 1518.0 269.4C1519.0 273.3 1520.0 277.1 1521.0 280.8C1522.0 284.5 1523.0 288.1 1524.0 291.5C1525.0 295.0 1526.0 298.3 1527.0 301.5C1528.0 304.7 1529.0 307.8 1530.0 310.8C1531.0 313.8 1532.0 316.6 1533.0 319.3C1534.0 322.0 1535.0 324.6 1536.0 327.1C1537.0 329.5 1538.0 331.8 1539.0 334.0C1540.0 336.2 1541.0 338.3 1542.0 340.4C1543.0 342.4 1544.0 344.4 1545.0 346.3C1546.0 348.3 1547.0 350.2 1548.0 352.1C1549.0 354.0 1550.0 355.9 1551.0 357.7C1552.0 359.6 1553.0 361.4 1554.0 363.2C1555.0 364.9 1556.0 366.7 1557.0 368.2C1558.0 369.8 1559.0 371.3 1560.0 372.7C1561.0 374.1 1562.0 375.3 1563.0 376.4C1564.0 377.4 1565.0 378.3 1566.0 379.1C1567.0 379.9 1568.0 380.5 1569.0 381.1C1570.0 381.7 1571.0 382.2 1572.0 382.7C1573.0 383.2 1574.0 383.6 1575.0 384.2C1576.0 384.7 1577.0 385.2 1578.0 385.8C1579.0 386.4 1580.0 387.1 1581.0 387.7C1582.0 388.4 1583.0 389.1 1584.0 389.7C1585.0 390.4 1586.0 391.1 1587.0 391.7C1588.0 392.3 1589.0 392.9 1590.0 393.4C1591.0 394.0 1592.0 394.5 1593.0 394.9C1594.0 395.2 1595.0 395.6 1596.0 395.8C1597.0 396.1 1598.0 396.2 1599.0 396.4C1600.0 396.5 1601.0 396.6 1602.0 396.7C1603.0 396.8 1604.0 396.9 1605.0 396.9C1606.0 397.0 1607.0 397.1 1608.0 397.1C1609.0 397.2 1610.0 397.3 1611.0 397.3C1612.0 397.4 1613.0 397.4 1614.0 397.5C1615.0 397.6 1616.0 397.6 1617.0 397.7C1618.0 397.7 1619.0 397.8 1620.0 397.8C1621.0 397.8 1622.0 397.9 1623.0 397.9C1624.0 398.0 1625.0 398.0 1626.0 398.1C1627.0 398.1 1628.0 398.1 1629.0 398.2C1630.0 398.2 1631.0 398.2 1632.0 398.3C1633.0 398.3 1634.0 398.3 1635.0 398.3C1636.0 398.4 1637.0 398.4 1638.0 398.4C1639.0 398.4 1640.0 398.5 1641.0 398.5C1642.0 398.5 1643.0 398.5 1644.0 398.5C1645.0 398.6 1646.0 398.6 1647.0 398.6C1648.0 398.6 1649.0 398.6 1650.0 398.6C1651.0 398.6 1652.0 398.7 1653.0 398.7C1654.0 398.7 1655.0 398.7 1656.0 398.7C1657.0 398.7 1658.0 398.7 1659.0 398.7C1660.0 398.7 1661.0 398.7 1662.0 398.7C1663.0 398.7 1664.0 398.7 1665.0 398.7C1666.0 398.7 1667.0 398.7 1668.0 398.7C1669.0 398.7 1670.0 398.7 1671.0 398.7C1672.0 398.7 1673.0 398.7 1674.0 398.7C1675.0 398.7 1676.0 398.7 1677.0 398.7C1678.0 398.7 1679.0 398.7 1680.0 398.7C1681.0 398.7 1682.0 398.7 1683.0 398.7C1684.0 398.7 1685.0 398.7 1686.0 398.7C1687.0 398.7 1688.0 398.7 1689.0 398.7C1690.0 398.7 1691.0 398.7 1692.0 398.7C1693.0 398.7 1694.0 398.7 1695.0 398.7C1696.0 398.7 1697.0 398.7 1698.0 398.7C1699.0 398.7 1700.0 398.7 1701.0 398.7C1702.0 398.7 1703.0 398.7 1704.0 398.7C1705.0 398.7 1706.0 398.7 1707.0 398.7C1708.0 398.7 1709.0 398.7 1710.0 398.7C1711.0 398.7 1712.1 398.7 1713.0 398.7C1713.9 398.7 1714.9 398.7 1715.3 398.7"/>
<path class="cv" stroke="#C12B29" d="M1263.0 398.6C1263.5 398.5 1265.0 398.3 1266.0 398.2C1267.0 398.1 1268.0 398.0 1269.0 398.0C1270.0 397.9 1271.0 397.8 1272.0 397.8C1273.0 397.7 1274.0 397.7 1275.0 397.7C1276.0 397.7 1277.0 397.6 1278.0 397.6C1279.0 397.6 1280.0 397.6 1281.0 397.6C1282.0 397.6 1283.0 397.6 1284.0 397.5C1285.0 397.5 1286.0 397.5 1287.0 397.5C1288.0 397.5 1289.0 397.4 1290.0 397.4C1291.0 397.4 1292.0 397.3 1293.0 397.3C1294.0 397.2 1295.0 397.2 1296.0 397.1C1297.0 397.0 1298.0 396.9 1299.0 396.8C1300.0 396.7 1301.0 396.5 1302.0 396.3C1303.0 396.2 1304.0 396.0 1305.0 395.7C1306.0 395.5 1307.0 395.2 1308.0 394.9C1309.0 394.5 1310.0 394.2 1311.0 393.7C1312.0 393.3 1313.0 392.8 1314.0 392.3C1315.0 391.7 1316.0 391.1 1317.0 390.4C1318.0 389.8 1319.0 389.0 1320.0 388.2C1321.0 387.4 1322.0 386.5 1323.0 385.5C1324.0 384.5 1325.0 383.5 1326.0 382.3C1327.0 381.1 1328.0 379.9 1329.0 378.6C1330.0 377.2 1331.0 375.8 1332.0 374.3C1333.0 372.8 1334.0 371.1 1335.0 369.5C1336.0 367.8 1337.0 366.1 1338.0 364.3C1339.0 362.5 1340.0 360.6 1341.0 358.7C1342.0 356.8 1343.0 354.8 1344.0 352.8C1345.0 350.8 1346.0 348.8 1347.0 346.7C1348.0 344.7 1349.0 342.6 1350.0 340.5C1351.0 338.3 1352.0 336.2 1353.0 333.8C1354.0 331.5 1355.0 329.2 1356.0 326.6C1357.0 324.0 1358.0 321.4 1359.0 318.5C1360.0 315.6 1361.0 312.5 1362.0 309.2C1363.0 306.0 1364.0 302.5 1365.0 298.9C1366.0 295.4 1367.0 291.7 1368.0 287.9C1369.0 284.1 1370.0 280.1 1371.0 276.2C1372.0 272.3 1373.0 268.2 1374.0 264.5C1375.0 260.8 1376.0 257.4 1377.0 254.0C1378.0 250.6 1379.0 247.3 1380.0 243.9C1381.0 240.6 1382.0 237.2 1383.0 234.0C1384.0 230.8 1385.0 227.6 1386.0 224.8C1387.0 222.0 1388.0 219.3 1389.0 217.0C1390.0 214.8 1391.0 212.9 1392.0 211.3C1393.0 209.8 1394.0 208.6 1395.0 207.7C1396.0 206.8 1397.0 206.3 1398.0 206.0C1399.0 205.8 1400.0 205.8 1401.0 206.1C1402.0 206.3 1403.0 206.8 1404.0 207.7C1405.0 208.5 1406.0 209.6 1407.0 211.0C1408.0 212.5 1409.0 214.3 1410.0 216.4C1411.0 218.5 1412.0 221.3 1413.0 223.8C1414.0 226.4 1415.0 229.3 1416.0 231.7C1417.0 234.0 1418.0 236.3 1419.0 238.0C1420.0 239.7 1421.0 241.1 1422.0 241.8C1423.0 242.5 1424.0 242.7 1425.0 242.3C1426.0 241.8 1427.0 240.5 1428.0 239.2C1429.0 237.9 1430.0 236.1 1431.0 234.5C1432.0 232.9 1433.0 231.1 1434.0 229.6C1435.0 228.0 1436.0 226.5 1437.0 225.3C1438.0 224.1 1439.0 223.1 1440.0 222.5C1441.0 221.9 1442.0 221.7 1443.0 221.7C1444.0 221.8 1445.0 222.4 1446.0 222.9C1447.0 223.5 1448.0 224.3 1449.0 225.0C1450.0 225.6 1451.0 226.4 1452.0 227.0C1453.0 227.6 1454.0 228.2 1455.0 228.4C1456.0 228.7 1457.0 228.7 1458.0 228.4C1459.0 228.1 1460.0 227.5 1461.0 226.6C1462.0 225.8 1463.0 224.6 1464.0 223.3C1465.0 222.0 1466.0 220.5 1467.0 219.0C1468.0 217.4 1469.0 215.7 1470.0 213.9C1471.0 212.2 1472.0 210.4 1473.0 208.6C1474.0 206.7 1475.0 204.7 1476.0 202.8C1477.0 201.0 1478.0 198.6 1479.0 197.5C1480.0 196.5 1481.0 195.9 1482.0 196.4C1483.0 196.9 1484.0 198.8 1485.0 200.4C1486.0 201.9 1487.0 204.1 1488.0 205.9C1489.0 207.6 1490.0 209.5 1491.0 211.0C1492.0 212.6 1493.0 214.1 1494.0 215.2C1495.0 216.4 1496.0 217.3 1497.0 217.9C1498.0 218.4 1499.0 218.6 1500.0 218.3C1501.0 218.1 1502.0 217.5 1503.0 216.3C1504.0 215.1 1505.0 213.5 1506.0 211.2C1507.0 208.8 1508.0 205.8 1509.0 202.1C1510.0 198.3 1511.0 193.1 1512.0 188.6C1513.0 184.1 1514.0 178.7 1515.0 174.9C1516.0 171.2 1517.0 168.0 1518.0 166.1C1519.0 164.3 1520.0 163.4 1521.0 163.7C1522.0 164.0 1523.0 165.3 1524.0 167.9C1525.0 170.6 1526.0 174.5 1527.0 179.5C1528.0 184.6 1529.0 191.2 1530.0 198.3C1531.0 205.3 1532.0 213.6 1533.0 221.9C1534.0 230.1 1535.0 239.2 1536.0 247.7C1537.0 256.3 1538.0 265.1 1539.0 273.3C1540.0 281.5 1541.0 289.5 1542.0 296.8C1543.0 304.1 1544.0 310.9 1545.0 317.1C1546.0 323.2 1547.0 329.6 1548.0 333.5C1549.0 337.4 1550.0 339.3 1551.0 340.6C1552.0 341.9 1553.0 341.5 1554.0 341.0C1555.0 340.6 1556.0 339.2 1557.0 338.0C1558.0 336.7 1559.0 334.9 1560.0 333.6C1561.0 332.3 1562.0 330.8 1563.0 330.2C1564.0 329.5 1565.0 329.3 1566.0 329.8C1567.0 330.2 1568.0 331.4 1569.0 332.8C1570.0 334.2 1571.0 336.3 1572.0 338.3C1573.0 340.4 1574.0 342.9 1575.0 345.4C1576.0 347.8 1577.0 350.4 1578.0 352.8C1579.0 355.3 1580.0 357.8 1581.0 359.9C1582.0 362.0 1583.0 364.0 1584.0 365.5C1585.0 367.1 1586.0 368.2 1587.0 369.1C1588.0 370.1 1589.0 370.6 1590.0 371.3C1591.0 372.0 1592.0 372.6 1593.0 373.2C1594.0 373.9 1595.0 374.6 1596.0 375.2C1597.0 375.9 1598.0 376.5 1599.0 377.1C1600.0 377.7 1601.0 378.3 1602.0 378.8C1603.0 379.3 1604.0 379.7 1605.0 380.2C1606.0 380.6 1607.0 380.9 1608.0 381.3C1609.0 381.6 1610.0 381.9 1611.0 382.1C1612.0 382.4 1613.0 382.6 1614.0 382.8C1615.0 383.0 1616.0 383.2 1617.0 383.3C1618.0 383.5 1619.0 383.7 1620.0 383.9C1621.0 384.2 1622.0 384.5 1623.0 384.9C1624.0 385.4 1625.0 386.0 1626.0 386.6C1627.0 387.3 1628.0 388.1 1629.0 388.7C1630.0 389.4 1631.0 390.0 1632.0 390.5C1633.0 391.1 1634.0 391.5 1635.0 392.0C1636.0 392.4 1637.0 392.8 1638.0 393.1C1639.0 393.4 1640.0 393.7 1641.0 394.0C1642.0 394.2 1643.0 394.4 1644.0 394.6C1645.0 394.8 1646.0 394.9 1647.0 395.1C1648.0 395.2 1649.0 395.3 1650.0 395.4C1651.0 395.5 1652.0 395.5 1653.0 395.6C1654.0 395.7 1655.0 395.7 1656.0 395.8C1657.0 395.8 1658.0 395.9 1659.0 395.9C1660.0 396.0 1661.0 396.0 1662.0 396.0C1663.0 396.1 1664.0 396.1 1665.0 396.2C1666.0 396.2 1667.0 396.3 1668.0 396.3C1669.0 396.4 1670.0 396.4 1671.0 396.4C1672.0 396.5 1673.0 396.5 1674.0 396.6C1675.0 396.6 1676.0 396.7 1677.0 396.7C1678.0 396.8 1679.0 396.8 1680.0 396.9C1681.0 397.0 1682.0 397.0 1683.0 397.1C1684.0 397.2 1685.0 397.2 1686.0 397.3C1687.0 397.4 1688.0 397.5 1689.0 397.5C1690.0 397.6 1691.0 397.7 1692.0 397.8C1693.0 397.9 1694.0 397.9 1695.0 398.0C1696.0 398.1 1697.0 398.2 1698.0 398.3C1699.0 398.3 1700.0 398.4 1701.0 398.5C1702.0 398.5 1703.0 398.6 1704.0 398.6C1705.0 398.7 1706.0 398.7 1707.0 398.7C1708.0 398.7 1709.0 398.7 1710.0 398.7C1711.0 398.7 1712.1 398.7 1713.0 398.7C1713.9 398.7 1714.9 398.6 1715.3 398.6"/>
<path class="cv" stroke="#DB972B" d="M1263.0 398.7C1263.5 398.7 1265.0 398.6 1266.0 398.6C1267.0 398.6 1268.0 398.5 1269.0 398.5C1270.0 398.5 1271.0 398.4 1272.0 398.4C1273.0 398.4 1274.0 398.3 1275.0 398.3C1276.0 398.3 1277.0 398.3 1278.0 398.2C1279.0 398.2 1280.0 398.2 1281.0 398.2C1282.0 398.1 1283.0 398.1 1284.0 398.1C1285.0 398.1 1286.0 398.1 1287.0 398.1C1288.0 398.1 1289.0 398.1 1290.0 398.1C1291.0 398.1 1292.0 398.1 1293.0 398.1C1294.0 398.1 1295.0 398.1 1296.0 398.1C1297.0 398.1 1298.0 398.1 1299.0 398.1C1300.0 398.1 1301.0 398.1 1302.0 398.1C1303.0 398.1 1304.0 398.1 1305.0 398.0C1306.0 398.0 1307.0 397.9 1308.0 397.8C1309.0 397.7 1310.0 397.6 1311.0 397.4C1312.0 397.3 1313.0 397.1 1314.0 396.8C1315.0 396.6 1316.0 396.3 1317.0 396.0C1318.0 395.6 1319.0 395.2 1320.0 394.8C1321.0 394.4 1322.0 393.8 1323.0 393.3C1324.0 392.8 1325.0 392.2 1326.0 391.5C1327.0 390.9 1328.0 390.3 1329.0 389.6C1330.0 389.0 1331.0 388.3 1332.0 387.7C1333.0 387.1 1334.0 386.5 1335.0 385.8C1336.0 385.2 1337.0 384.6 1338.0 384.0C1339.0 383.4 1340.0 382.8 1341.0 382.1C1342.0 381.5 1343.0 380.8 1344.0 380.1C1345.0 379.4 1346.0 378.6 1347.0 377.8C1348.0 376.9 1349.0 376.1 1350.0 375.1C1351.0 374.2 1352.0 373.1 1353.0 372.0C1354.0 370.9 1355.0 369.7 1356.0 368.4C1357.0 367.0 1358.0 365.6 1359.0 364.1C1360.0 362.5 1361.0 360.9 1362.0 359.1C1363.0 357.3 1364.0 355.4 1365.0 353.3C1366.0 351.3 1367.0 349.1 1368.0 346.8C1369.0 344.4 1370.0 341.9 1371.0 339.3C1372.0 336.6 1373.0 333.8 1374.0 330.9C1375.0 328.0 1376.0 325.0 1377.0 321.8C1378.0 318.7 1379.0 315.4 1380.0 312.1C1381.0 308.7 1382.0 305.2 1383.0 301.6C1384.0 298.0 1385.0 294.3 1386.0 290.4C1387.0 286.5 1388.0 282.4 1389.0 278.2C1390.0 273.9 1391.0 269.5 1392.0 264.8C1393.0 260.1 1394.0 255.3 1395.0 250.1C1396.0 245.0 1397.0 239.6 1398.0 234.1C1399.0 228.6 1400.0 222.8 1401.0 216.9C1402.0 211.1 1403.0 205.1 1404.0 199.2C1405.0 193.2 1406.0 187.1 1407.0 181.2C1408.0 175.3 1409.0 169.4 1410.0 163.6C1411.0 157.9 1412.0 152.3 1413.0 146.8C1414.0 141.4 1415.0 136.1 1416.0 131.1C1417.0 126.0 1418.0 121.2 1419.0 116.5C1420.0 111.9 1421.0 107.5 1422.0 103.3C1423.0 99.2 1424.0 95.2 1425.0 91.6C1426.0 87.9 1427.0 84.5 1428.0 81.4C1429.0 78.3 1430.0 75.5 1431.0 73.0C1432.0 70.5 1433.0 68.3 1434.0 66.5C1435.0 64.6 1436.0 63.1 1437.0 61.9C1438.0 60.8 1439.0 60.0 1440.0 59.6C1441.0 59.2 1442.0 59.2 1443.0 59.6C1444.0 59.9 1445.0 60.7 1446.0 61.8C1447.0 62.9 1448.0 64.4 1449.0 66.1C1450.0 67.9 1451.0 70.0 1452.0 72.4C1453.0 74.7 1454.0 77.4 1455.0 80.3C1456.0 83.2 1457.0 86.4 1458.0 89.7C1459.0 93.1 1460.0 96.7 1461.0 100.4C1462.0 104.2 1463.0 108.1 1464.0 112.2C1465.0 116.2 1466.0 120.5 1467.0 124.8C1468.0 129.1 1469.0 133.6 1470.0 138.1C1471.0 142.6 1472.0 147.2 1473.0 151.8C1474.0 156.5 1475.0 161.2 1476.0 165.9C1477.0 170.6 1478.0 175.3 1479.0 180.0C1480.0 184.7 1481.0 189.4 1482.0 194.1C1483.0 198.8 1484.0 203.4 1485.0 208.0C1486.0 212.6 1487.0 217.1 1488.0 221.6C1489.0 226.0 1490.0 230.4 1491.0 234.6C1492.0 238.8 1493.0 243.0 1494.0 247.0C1495.0 250.9 1496.0 254.9 1497.0 258.3C1498.0 261.8 1499.0 264.9 1500.0 267.4C1501.0 269.8 1502.0 271.3 1503.0 273.0C1504.0 274.7 1505.0 275.7 1506.0 277.3C1507.0 278.9 1508.0 280.6 1509.0 282.7C1510.0 284.9 1511.0 287.2 1512.0 290.2C1513.0 293.2 1514.0 296.7 1515.0 300.5C1516.0 304.3 1517.0 308.9 1518.0 313.0C1519.0 317.1 1520.0 321.6 1521.0 325.2C1522.0 328.8 1523.0 332.1 1524.0 334.8C1525.0 337.4 1526.0 339.3 1527.0 340.9C1528.0 342.6 1529.0 343.7 1530.0 344.9C1531.0 346.1 1532.0 346.9 1533.0 347.9C1534.0 348.9 1535.0 350.1 1536.0 351.1C1537.0 352.1 1538.0 353.2 1539.0 354.0C1540.0 354.8 1541.0 355.3 1542.0 355.7C1543.0 356.1 1544.0 356.2 1545.0 356.3C1546.0 356.4 1547.0 356.3 1548.0 356.3C1549.0 356.4 1550.0 356.3 1551.0 356.4C1552.0 356.6 1553.0 356.8 1554.0 357.2C1555.0 357.6 1556.0 358.3 1557.0 359.0C1558.0 359.7 1559.0 360.6 1560.0 361.5C1561.0 362.5 1562.0 363.5 1563.0 364.5C1564.0 365.5 1565.0 366.6 1566.0 367.5C1567.0 368.5 1568.0 369.5 1569.0 370.2C1570.0 371.0 1571.0 371.8 1572.0 372.3C1573.0 372.9 1574.0 373.3 1575.0 373.7C1576.0 374.0 1577.0 374.3 1578.0 374.5C1579.0 374.8 1580.0 374.9 1581.0 375.1C1582.0 375.4 1583.0 375.5 1584.0 375.8C1585.0 376.0 1586.0 376.2 1587.0 376.6C1588.0 377.0 1589.0 377.4 1590.0 377.9C1591.0 378.4 1592.0 379.0 1593.0 379.6C1594.0 380.2 1595.0 380.9 1596.0 381.6C1597.0 382.3 1598.0 383.1 1599.0 383.8C1600.0 384.6 1601.0 385.3 1602.0 386.0C1603.0 386.8 1604.0 387.5 1605.0 388.1C1606.0 388.7 1607.0 389.3 1608.0 389.8C1609.0 390.2 1610.0 390.6 1611.0 390.9C1612.0 391.2 1613.0 391.4 1614.0 391.6C1615.0 391.8 1616.0 392.0 1617.0 392.1C1618.0 392.3 1619.0 392.4 1620.0 392.6C1621.0 392.8 1622.0 393.0 1623.0 393.3C1624.0 393.5 1625.0 393.8 1626.0 394.1C1627.0 394.3 1628.0 394.6 1629.0 394.9C1630.0 395.2 1631.0 395.5 1632.0 395.7C1633.0 396.0 1634.0 396.2 1635.0 396.4C1636.0 396.7 1637.0 396.8 1638.0 397.0C1639.0 397.2 1640.0 397.3 1641.0 397.5C1642.0 397.6 1643.0 397.7 1644.0 397.8C1645.0 397.9 1646.0 398.0 1647.0 398.1C1648.0 398.2 1649.0 398.3 1650.0 398.3C1651.0 398.4 1652.0 398.4 1653.0 398.5C1654.0 398.5 1655.0 398.5 1656.0 398.6C1657.0 398.6 1658.0 398.6 1659.0 398.7C1660.0 398.7 1661.0 398.7 1662.0 398.7C1663.0 398.7 1664.0 398.7 1665.0 398.7C1666.0 398.7 1667.0 398.7 1668.0 398.7C1669.0 398.7 1670.0 398.7 1671.0 398.7C1672.0 398.7 1673.0 398.7 1674.0 398.7C1675.0 398.7 1676.0 398.7 1677.0 398.7C1678.0 398.7 1679.0 398.7 1680.0 398.7C1681.0 398.7 1682.0 398.7 1683.0 398.7C1684.0 398.7 1685.0 398.7 1686.0 398.7C1687.0 398.7 1688.0 398.7 1689.0 398.7C1690.0 398.7 1691.0 398.7 1692.0 398.7C1693.0 398.7 1694.0 398.6 1695.0 398.6C1696.0 398.6 1697.0 398.6 1698.0 398.6C1699.0 398.6 1700.0 398.6 1701.0 398.6C1702.0 398.6 1703.0 398.6 1704.0 398.6C1705.0 398.6 1706.0 398.6 1707.0 398.6C1708.0 398.7 1709.0 398.7 1710.0 398.7C1711.0 398.7 1712.1 398.7 1713.0 398.7C1713.9 398.7 1714.9 398.7 1715.3 398.7"/>
<path class="cv" stroke="#D07343" d="M1263.0 398.3C1263.5 398.3 1265.0 398.2 1266.0 398.2C1267.0 398.2 1268.0 398.2 1269.0 398.2C1270.0 398.2 1271.0 398.1 1272.0 398.1C1273.0 398.1 1274.0 398.1 1275.0 398.0C1276.0 398.0 1277.0 398.0 1278.0 397.9C1279.0 397.9 1280.0 397.8 1281.0 397.8C1282.0 397.7 1283.0 397.7 1284.0 397.6C1285.0 397.5 1286.0 397.4 1287.0 397.3C1288.0 397.2 1289.0 397.1 1290.0 397.0C1291.0 396.9 1292.0 396.8 1293.0 396.6C1294.0 396.5 1295.0 396.3 1296.0 396.1C1297.0 395.9 1298.0 395.8 1299.0 395.5C1300.0 395.3 1301.0 395.0 1302.0 394.7C1303.0 394.4 1304.0 394.1 1305.0 393.7C1306.0 393.4 1307.0 393.0 1308.0 392.5C1309.0 392.0 1310.0 391.5 1311.0 391.0C1312.0 390.4 1313.0 389.8 1314.0 389.1C1315.0 388.4 1316.0 387.7 1317.0 386.9C1318.0 386.1 1319.0 385.2 1320.0 384.2C1321.0 383.3 1322.0 382.2 1323.0 381.1C1324.0 380.0 1325.0 378.8 1326.0 377.5C1327.0 376.2 1328.0 374.8 1329.0 373.3C1330.0 371.9 1331.0 370.3 1332.0 368.6C1333.0 366.9 1334.0 365.2 1335.0 363.3C1336.0 361.5 1337.0 359.6 1338.0 357.6C1339.0 355.6 1340.0 353.6 1341.0 351.5C1342.0 349.4 1343.0 347.3 1344.0 345.2C1345.0 343.0 1346.0 340.8 1347.0 338.6C1348.0 336.4 1349.0 334.3 1350.0 332.0C1351.0 329.8 1352.0 327.5 1353.0 325.1C1354.0 322.7 1355.0 320.2 1356.0 317.5C1357.0 314.8 1358.0 311.9 1359.0 308.8C1360.0 305.6 1361.0 302.3 1362.0 298.5C1363.0 294.8 1364.0 290.9 1365.0 286.5C1366.0 282.1 1367.0 277.2 1368.0 272.2C1369.0 267.1 1370.0 261.4 1371.0 256.1C1372.0 250.9 1373.0 245.7 1374.0 240.7C1375.0 235.8 1376.0 231.1 1377.0 226.4C1378.0 221.7 1379.0 217.2 1380.0 212.6C1381.0 208.0 1382.0 203.5 1383.0 198.8C1384.0 194.1 1385.0 189.3 1386.0 184.4C1387.0 179.5 1388.0 174.4 1389.0 169.4C1390.0 164.4 1391.0 159.3 1392.0 154.4C1393.0 149.5 1394.0 144.5 1395.0 139.9C1396.0 135.3 1397.0 130.8 1398.0 126.6C1399.0 122.5 1400.0 118.6 1401.0 115.2C1402.0 111.7 1403.0 108.6 1404.0 106.1C1405.0 103.6 1406.0 101.5 1407.0 100.0C1408.0 98.5 1409.0 97.6 1410.0 97.1C1411.0 96.7 1412.0 96.8 1413.0 97.4C1414.0 98.0 1415.0 99.2 1416.0 100.8C1417.0 102.4 1418.0 104.7 1419.0 107.2C1420.0 109.7 1421.0 112.7 1422.0 115.8C1423.0 118.9 1424.0 122.4 1425.0 125.9C1426.0 129.4 1427.0 133.1 1428.0 136.8C1429.0 140.6 1430.0 144.4 1431.0 148.4C1432.0 152.3 1433.0 156.4 1434.0 160.7C1435.0 164.9 1436.0 169.3 1437.0 173.8C1438.0 178.4 1439.0 183.3 1440.0 187.8C1441.0 192.3 1442.0 197.1 1443.0 201.0C1444.0 205.0 1445.0 208.7 1446.0 211.3C1447.0 214.0 1448.0 216.0 1449.0 217.1C1450.0 218.2 1451.0 218.5 1452.0 218.1C1453.0 217.7 1454.0 216.4 1455.0 214.6C1456.0 212.8 1457.0 210.3 1458.0 207.3C1459.0 204.3 1460.0 200.6 1461.0 196.8C1462.0 192.9 1463.0 188.3 1464.0 184.2C1465.0 180.1 1466.0 175.8 1467.0 172.2C1468.0 168.5 1469.0 165.3 1470.0 162.2C1471.0 159.0 1472.0 156.2 1473.0 153.2C1474.0 150.3 1475.0 147.5 1476.0 144.4C1477.0 141.3 1478.0 138.0 1479.0 134.8C1480.0 131.5 1481.0 128.0 1482.0 124.8C1483.0 121.5 1484.0 118.2 1485.0 115.3C1486.0 112.4 1487.0 109.6 1488.0 107.3C1489.0 105.1 1490.0 103.0 1491.0 101.7C1492.0 100.4 1493.0 99.6 1494.0 99.3C1495.0 99.1 1496.0 99.7 1497.0 100.4C1498.0 101.2 1499.0 102.5 1500.0 103.9C1501.0 105.2 1502.0 106.9 1503.0 108.3C1504.0 109.8 1505.0 111.2 1506.0 112.7C1507.0 114.2 1508.0 115.6 1509.0 117.4C1510.0 119.1 1511.0 121.0 1512.0 123.4C1513.0 125.8 1514.0 128.4 1515.0 131.8C1516.0 135.1 1517.0 139.1 1518.0 143.4C1519.0 147.8 1520.0 153.0 1521.0 157.9C1522.0 162.8 1523.0 168.2 1524.0 173.0C1525.0 177.9 1526.0 182.6 1527.0 187.2C1528.0 191.8 1529.0 196.1 1530.0 200.6C1531.0 205.1 1532.0 209.4 1533.0 214.0C1534.0 218.6 1535.0 223.1 1536.0 228.0C1537.0 232.9 1538.0 238.1 1539.0 243.3C1540.0 248.5 1541.0 254.2 1542.0 259.5C1543.0 264.8 1544.0 270.2 1545.0 275.0C1546.0 279.9 1547.0 284.5 1548.0 288.4C1549.0 292.4 1550.0 295.6 1551.0 298.8C1552.0 301.9 1553.0 304.6 1554.0 307.4C1555.0 310.2 1556.0 312.9 1557.0 315.6C1558.0 318.3 1559.0 320.9 1560.0 323.5C1561.0 326.1 1562.0 328.7 1563.0 331.2C1564.0 333.7 1565.0 336.1 1566.0 338.6C1567.0 341.0 1568.0 343.4 1569.0 345.8C1570.0 348.1 1571.0 350.5 1572.0 352.7C1573.0 354.9 1574.0 357.0 1575.0 359.1C1576.0 361.1 1577.0 363.0 1578.0 364.8C1579.0 366.5 1580.0 368.1 1581.0 369.6C1582.0 371.0 1583.0 372.2 1584.0 373.3C1585.0 374.4 1586.0 375.3 1587.0 376.1C1588.0 376.9 1589.0 377.5 1590.0 378.1C1591.0 378.8 1592.0 379.3 1593.0 379.8C1594.0 380.4 1595.0 380.9 1596.0 381.4C1597.0 381.8 1598.0 382.3 1599.0 382.8C1600.0 383.2 1601.0 383.7 1602.0 384.1C1603.0 384.5 1604.0 385.0 1605.0 385.4C1606.0 385.8 1607.0 386.2 1608.0 386.5C1609.0 386.9 1610.0 387.3 1611.0 387.6C1612.0 388.0 1613.0 388.3 1614.0 388.7C1615.0 389.0 1616.0 389.4 1617.0 389.7C1618.0 390.0 1619.0 390.3 1620.0 390.6C1621.0 391.0 1622.0 391.3 1623.0 391.6C1624.0 391.9 1625.0 392.2 1626.0 392.5C1627.0 392.7 1628.0 393.0 1629.0 393.3C1630.0 393.6 1631.0 393.9 1632.0 394.2C1633.0 394.4 1634.0 394.7 1635.0 394.9C1636.0 395.2 1637.0 395.4 1638.0 395.7C1639.0 395.9 1640.0 396.1 1641.0 396.4C1642.0 396.6 1643.0 396.8 1644.0 397.0C1645.0 397.1 1646.0 397.3 1647.0 397.5C1648.0 397.6 1649.0 397.8 1650.0 397.9C1651.0 398.1 1652.0 398.2 1653.0 398.3C1654.0 398.4 1655.0 398.5 1656.0 398.5C1657.0 398.6 1658.0 398.7 1659.0 398.7C1660.0 398.7 1661.0 398.7 1662.0 398.7C1663.0 398.7 1664.0 398.7 1665.0 398.7C1666.0 398.7 1667.0 398.7 1668.0 398.7C1669.0 398.7 1670.0 398.7 1671.0 398.7C1672.0 398.7 1673.0 398.7 1674.0 398.7C1675.0 398.7 1676.0 398.7 1677.0 398.7C1678.0 398.7 1679.0 398.7 1680.0 398.6C1681.0 398.6 1682.0 398.6 1683.0 398.6C1684.0 398.6 1685.0 398.6 1686.0 398.6C1687.0 398.6 1688.0 398.6 1689.0 398.6C1690.0 398.6 1691.0 398.6 1692.0 398.6C1693.0 398.6 1694.0 398.6 1695.0 398.6C1696.0 398.7 1697.0 398.7 1698.0 398.7C1699.0 398.7 1700.0 398.7 1701.0 398.7C1702.0 398.7 1703.0 398.7 1704.0 398.7C1705.0 398.7 1706.0 398.7 1707.0 398.7C1708.0 398.7 1709.0 398.7 1710.0 398.7C1711.0 398.7 1712.1 398.7 1713.0 398.7C1713.9 398.7 1714.9 398.6 1715.3 398.6"/>
<path class="cv" stroke="#70161B" d="M1263.0 398.1C1263.5 398.0 1265.0 397.9 1266.0 397.8C1267.0 397.7 1268.0 397.6 1269.0 397.6C1270.0 397.5 1271.0 397.5 1272.0 397.4C1273.0 397.4 1274.0 397.4 1275.0 397.3C1276.0 397.3 1277.0 397.3 1278.0 397.2C1279.0 397.2 1280.0 397.1 1281.0 397.1C1282.0 397.0 1283.0 397.0 1284.0 396.9C1285.0 396.8 1286.0 396.7 1287.0 396.6C1288.0 396.5 1289.0 396.4 1290.0 396.3C1291.0 396.1 1292.0 395.9 1293.0 395.7C1294.0 395.5 1295.0 395.3 1296.0 395.1C1297.0 394.8 1298.0 394.5 1299.0 394.2C1300.0 393.8 1301.0 393.5 1302.0 393.1C1303.0 392.7 1304.0 392.2 1305.0 391.7C1306.0 391.2 1307.0 390.7 1308.0 390.1C1309.0 389.5 1310.0 388.8 1311.0 388.1C1312.0 387.4 1313.0 386.6 1314.0 385.8C1315.0 385.0 1316.0 384.1 1317.0 383.1C1318.0 382.2 1319.0 381.2 1320.0 380.1C1321.0 379.0 1322.0 377.8 1323.0 376.6C1324.0 375.3 1325.0 374.0 1326.0 372.6C1327.0 371.2 1328.0 369.8 1329.0 368.2C1330.0 366.7 1331.0 365.0 1332.0 363.3C1333.0 361.6 1334.0 359.8 1335.0 357.9C1336.0 356.0 1337.0 354.0 1338.0 352.0C1339.0 350.0 1340.0 347.9 1341.0 345.7C1342.0 343.5 1343.0 341.2 1344.0 338.9C1345.0 336.6 1346.0 334.2 1347.0 331.7C1348.0 329.3 1349.0 326.7 1350.0 324.1C1351.0 321.5 1352.0 318.9 1353.0 316.2C1354.0 313.4 1355.0 310.6 1356.0 307.8C1357.0 305.0 1358.0 302.0 1359.0 299.1C1360.0 296.2 1361.0 293.2 1362.0 290.2C1363.0 287.3 1364.0 284.3 1365.0 281.5C1366.0 278.7 1367.0 275.9 1368.0 273.3C1369.0 270.6 1370.0 268.1 1371.0 265.8C1372.0 263.5 1373.0 261.3 1374.0 259.4C1375.0 257.5 1376.0 255.8 1377.0 254.4C1378.0 253.0 1379.0 251.8 1380.0 251.1C1381.0 250.3 1382.0 249.8 1383.0 249.7C1384.0 249.5 1385.0 249.7 1386.0 250.0C1387.0 250.4 1388.0 251.0 1389.0 251.8C1390.0 252.6 1391.0 253.6 1392.0 254.7C1393.0 255.7 1394.0 256.9 1395.0 258.0C1396.0 259.0 1397.0 260.1 1398.0 261.0C1399.0 261.8 1400.0 262.4 1401.0 263.1C1402.0 263.7 1403.0 264.2 1404.0 265.0C1405.0 265.8 1406.0 266.7 1407.0 267.7C1408.0 268.7 1409.0 269.8 1410.0 271.0C1411.0 272.2 1412.0 273.4 1413.0 274.7C1414.0 276.0 1415.0 277.3 1416.0 278.5C1417.0 279.8 1418.0 281.1 1419.0 282.3C1420.0 283.5 1421.0 284.7 1422.0 285.8C1423.0 286.8 1424.0 287.9 1425.0 288.7C1426.0 289.6 1427.0 290.3 1428.0 290.9C1429.0 291.4 1430.0 291.8 1431.0 292.1C1432.0 292.3 1433.0 292.2 1434.0 292.2C1435.0 292.1 1436.0 291.8 1437.0 291.7C1438.0 291.6 1439.0 291.4 1440.0 291.4C1441.0 291.4 1442.0 291.5 1443.0 291.7C1444.0 292.0 1445.0 292.4 1446.0 292.7C1447.0 293.1 1448.0 293.6 1449.0 294.1C1450.0 294.5 1451.0 295.0 1452.0 295.5C1453.0 295.9 1454.0 296.4 1455.0 297.0C1456.0 297.5 1457.0 298.1 1458.0 298.8C1459.0 299.6 1460.0 300.4 1461.0 301.2C1462.0 302.0 1463.0 303.0 1464.0 303.7C1465.0 304.4 1466.0 304.8 1467.0 305.2C1468.0 305.5 1469.0 305.6 1470.0 305.7C1471.0 305.8 1472.0 305.8 1473.0 305.8C1474.0 305.8 1475.0 305.7 1476.0 305.7C1477.0 305.7 1478.0 305.7 1479.0 305.8C1480.0 306.0 1481.0 306.2 1482.0 306.5C1483.0 306.8 1484.0 307.1 1485.0 307.5C1486.0 308.0 1487.0 308.4 1488.0 309.0C1489.0 309.5 1490.0 310.1 1491.0 310.7C1492.0 311.3 1493.0 312.0 1494.0 312.5C1495.0 313.1 1496.0 313.6 1497.0 314.0C1498.0 314.3 1499.0 314.5 1500.0 314.6C1501.0 314.7 1502.0 314.6 1503.0 314.7C1504.0 314.7 1505.0 314.7 1506.0 314.8C1507.0 315.0 1508.0 315.2 1509.0 315.6C1510.0 315.9 1511.0 316.4 1512.0 316.9C1513.0 317.5 1514.0 318.1 1515.0 318.9C1516.0 319.7 1517.0 320.6 1518.0 321.5C1519.0 322.5 1520.0 323.6 1521.0 324.9C1522.0 326.1 1523.0 327.4 1524.0 328.8C1525.0 330.2 1526.0 331.7 1527.0 333.2C1528.0 334.6 1529.0 336.2 1530.0 337.6C1531.0 339.1 1532.0 340.5 1533.0 341.8C1534.0 343.1 1535.0 344.3 1536.0 345.4C1537.0 346.4 1538.0 347.4 1539.0 348.1C1540.0 348.7 1541.0 349.2 1542.0 349.5C1543.0 349.8 1544.0 349.9 1545.0 349.9C1546.0 350.0 1547.0 349.8 1548.0 349.7C1549.0 349.5 1550.0 349.3 1551.0 349.1C1552.0 348.9 1553.0 348.7 1554.0 348.6C1555.0 348.4 1556.0 348.3 1557.0 348.2C1558.0 348.2 1559.0 348.2 1560.0 348.2C1561.0 348.3 1562.0 348.4 1563.0 348.6C1564.0 348.8 1565.0 349.1 1566.0 349.5C1567.0 349.9 1568.0 350.4 1569.0 351.0C1570.0 351.6 1571.0 352.2 1572.0 353.0C1573.0 353.8 1574.0 354.7 1575.0 355.7C1576.0 356.7 1577.0 357.8 1578.0 358.9C1579.0 360.0 1580.0 361.2 1581.0 362.3C1582.0 363.4 1583.0 364.6 1584.0 365.6C1585.0 366.7 1586.0 367.8 1587.0 368.8C1588.0 369.8 1589.0 370.8 1590.0 371.7C1591.0 372.6 1592.0 373.4 1593.0 374.1C1594.0 374.8 1595.0 375.5 1596.0 376.0C1597.0 376.6 1598.0 377.0 1599.0 377.4C1600.0 377.8 1601.0 378.1 1602.0 378.4C1603.0 378.7 1604.0 378.9 1605.0 379.2C1606.0 379.5 1607.0 379.8 1608.0 380.1C1609.0 380.4 1610.0 380.8 1611.0 381.1C1612.0 381.5 1613.0 381.9 1614.0 382.4C1615.0 382.8 1616.0 383.3 1617.0 383.7C1618.0 384.2 1619.0 384.7 1620.0 385.2C1621.0 385.7 1622.0 386.2 1623.0 386.6C1624.0 387.1 1625.0 387.6 1626.0 388.1C1627.0 388.6 1628.0 389.1 1629.0 389.5C1630.0 390.0 1631.0 390.4 1632.0 390.9C1633.0 391.3 1634.0 391.7 1635.0 392.1C1636.0 392.4 1637.0 392.8 1638.0 393.1C1639.0 393.4 1640.0 393.7 1641.0 394.0C1642.0 394.3 1643.0 394.5 1644.0 394.8C1645.0 395.0 1646.0 395.2 1647.0 395.4C1648.0 395.6 1649.0 395.8 1650.0 395.9C1651.0 396.1 1652.0 396.3 1653.0 396.4C1654.0 396.5 1655.0 396.7 1656.0 396.8C1657.0 396.9 1658.0 397.0 1659.0 397.1C1660.0 397.2 1661.0 397.3 1662.0 397.4C1663.0 397.5 1664.0 397.6 1665.0 397.6C1666.0 397.7 1667.0 397.8 1668.0 397.9C1669.0 397.9 1670.0 398.0 1671.0 398.0C1672.0 398.1 1673.0 398.1 1674.0 398.2C1675.0 398.2 1676.0 398.2 1677.0 398.3C1678.0 398.3 1679.0 398.3 1680.0 398.4C1681.0 398.4 1682.0 398.4 1683.0 398.4C1684.0 398.4 1685.0 398.5 1686.0 398.5C1687.0 398.5 1688.0 398.5 1689.0 398.5C1690.0 398.5 1691.0 398.5 1692.0 398.5C1693.0 398.5 1694.0 398.5 1695.0 398.5C1696.0 398.5 1697.0 398.5 1698.0 398.6C1699.0 398.6 1700.0 398.6 1701.0 398.6C1702.0 398.6 1703.0 398.6 1704.0 398.6C1705.0 398.6 1706.0 398.6 1707.0 398.6C1708.0 398.6 1709.0 398.6 1710.0 398.7C1711.0 398.7 1712.1 398.7 1713.0 398.7C1713.9 398.7 1714.9 398.7 1715.3 398.7"/>
<rect class="ax" x="1259.00" y="55.96" width="460.35" height="346.59"/>
<path class="ax" d="M1262.70 402.55V415.30M1338.14 402.55V427.10M1413.59 402.55V415.30M1489.03 402.55V427.10M1564.47 402.55V415.30M1639.92 402.55V427.10M1715.36 402.55V415.30M1234.10 398.84H1259.00M1234.10 270.47H1259.00M1234.10 142.10H1259.00"/>
<text class="big" text-anchor="middle" transform="translate(1338.44,463.90) scale(1,1.050)">-20</text>
<text class="big" text-anchor="middle" transform="translate(1489.03,463.90) scale(1,1.050)">0</text>
<text class="big" text-anchor="middle" transform="translate(1639.92,463.90) scale(1,1.050)">20</text>
<text class="big" text-anchor="end" transform="translate(1224.20,410.04) scale(1,1.055)">0</text>
<text class="big" text-anchor="end" transform="translate(1224.20,281.67) scale(1,1.055)">2</text>
<text class="big" text-anchor="end" transform="translate(1224.20,153.30) scale(1,1.055)">4</text>
<text class="big" text-anchor="middle" transform="translate(1491.03,509.60) scale(1,1.000)">Delay (fs)</text>
<text class="big" text-anchor="middle" transform="translate(1489.03,23.50) scale(1,1.035)">HH 17</text>
<text class="big" text-anchor="start" transform="translate(1195.60,25.20) scale(1,1.000)">(c)</text>
<path d="M1594.05 78.70H1623.15" stroke="#B1C530" stroke-width="3.5" fill="none"/>
<text class="leg" x="1629.55" y="83.35">2.7 TW/cm<tspan class="sup" dx="0.3" dy="-9.0">2</tspan></text>
<path d="M1594.05 102.60H1623.15" stroke="#DB972B" stroke-width="3.5" fill="none"/>
<text class="leg" x="1629.55" y="107.25">4.0 TW/cm<tspan class="sup" dx="0.3" dy="-9.0">2</tspan></text>
<path d="M1594.05 126.50H1623.15" stroke="#D07343" stroke-width="3.5" fill="none"/>
<text class="leg" x="1629.55" y="131.15">5.4 TW/cm<tspan class="sup" dx="0.3" dy="-9.0">2</tspan></text>
<path d="M1594.05 150.40H1623.15" stroke="#C12B29" stroke-width="3.5" fill="none"/>
<text class="leg" x="1629.55" y="155.05">6.7 TW/cm<tspan class="sup" dx="0.3" dy="-9.0">2</tspan></text>
<path d="M1594.05 174.30H1623.15" stroke="#70161B" stroke-width="3.5" fill="none"/>
<text class="leg" x="1629.55" y="178.95">8.1 TW/cm<tspan class="sup" dx="0.3" dy="-9.0">2</tspan></text>
</g>
</svg>
</body>
</html>
